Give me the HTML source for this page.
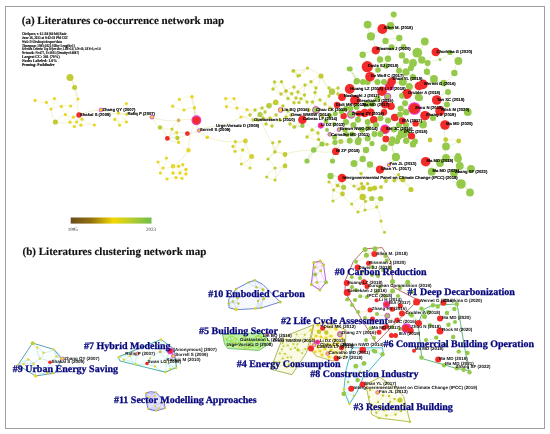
<!DOCTYPE html>
<html><head><meta charset="utf-8"><title>CiteSpace network maps</title><style>html,body{margin:0;padding:0;background:#fff;}body{width:550px;height:434px;position:relative;overflow:hidden;}</style></head><body>
<svg width="550" height="434" viewBox="0 0 550 434" text-rendering="geometricPrecision" style="position:absolute;left:0;top:0;filter:blur(0.3px)">
<rect x="5.5" y="6.5" width="539" height="422" fill="none" stroke="#a0a0a0" stroke-width="1"/>
<g stroke-width="0.55" fill="none">
<path d="M70 77.6Q73.8 81.8 74.6 87.4" stroke="#e6e8a8"/>
<path d="M74.6 87.4Q74.6 93.7 78 99" stroke="#e6e8a8"/>
<path d="M78 99Q75.3 103.6 70.6 106" stroke="#efefc4"/>
<path d="M35 100.4Q40.4 103.1 46.4 102.4" stroke="#efefc4"/>
<path d="M46.4 102.4Q49.8 99.3 54.4 98.6" stroke="#efefc4"/>
<path d="M46.4 102.4Q47.7 106.4 51 109" stroke="#efefc4"/>
<path d="M54.4 98.6Q54.3 104.3 51 109" stroke="#efefc4"/>
<path d="M54.4 98.6Q56.7 103.5 61.4 106.4" stroke="#efefc4"/>
<path d="M51 109Q55.8 106.1 61.4 106.4" stroke="#efefc4"/>
<path d="M51 109Q51.2 116.2 55.4 122" stroke="#e6e8a8"/>
<path d="M61.4 106.4Q65.9 104.8 70.6 106" stroke="#efefc4"/>
<path d="M61.4 106.4Q62.2 111.1 65.4 114.6" stroke="#efefc4"/>
<path d="M70.6 106Q69.3 111.1 65.4 114.6" stroke="#efefc4"/>
<path d="M65.4 114.6Q69 117.1 73.4 117.2" stroke="#efefc4"/>
<path d="M65.4 114.6Q68.8 117.7 70 122.2" stroke="#efefc4"/>
<path d="M65.4 114.6Q59.3 116.8 55.4 122" stroke="#e6e8a8"/>
<path d="M79 115Q76.5 116.9 73.4 117.2" stroke="#d2e4a8"/>
<path d="M79 115Q79.9 117.5 82 119.2" stroke="#d2e4a8"/>
<path d="M79 115Q78.8 118.9 76.6 122" stroke="#d2e4a8"/>
<path d="M73.4 117.2Q71 119.2 70 122.2" stroke="#efefc4"/>
<path d="M73.4 117.2Q75.7 119.1 76.6 122" stroke="#efefc4"/>
<path d="M82 119.2Q78.9 119.8 76.6 122" stroke="#efefc4"/>
<path d="M82 119.2Q82.4 122.4 81 125.2" stroke="#efefc4"/>
<path d="M82 119.2Q87.3 124 94.4 125" stroke="#efefc4"/>
<path d="M70 122.2Q73.3 121.1 76.6 122" stroke="#efefc4"/>
<path d="M70 122.2Q71.5 125.1 74.4 126.6" stroke="#efefc4"/>
<path d="M70 122.2Q62.7 124.3 55.4 122" stroke="#e6e8a8"/>
<path d="M76.6 122Q78.3 124.3 81 125.2" stroke="#efefc4"/>
<path d="M76.6 122Q76.2 124.6 74.4 126.6" stroke="#efefc4"/>
<path d="M81 125.2Q77.5 124.9 74.4 126.6" stroke="#efefc4"/>
<path d="M81 125.2Q87.7 123.1 94.4 125" stroke="#efefc4"/>
<path d="M126.4 103.6Q121 107.1 118.4 113" stroke="#efefc4"/>
<path d="M126.4 103.6Q128 109 126.4 114.4" stroke="#efefc4"/>
<path d="M118.4 113Q115.6 115.7 114.8 119.4" stroke="#efefc4"/>
<path d="M118.4 113Q123.8 116.3 126.4 122" stroke="#efefc4"/>
<path d="M118.4 113Q117.2 119.3 119.6 125.2" stroke="#efefc4"/>
<path d="M118.4 113Q122.6 112.5 126.4 114.4" stroke="#efefc4"/>
<path d="M114.8 119.4Q120.2 122.4 126.4 122" stroke="#efefc4"/>
<path d="M114.8 119.4Q118.1 121.6 119.6 125.2" stroke="#efefc4"/>
<path d="M126.4 122Q122.5 122.6 119.6 125.2" stroke="#efefc4"/>
<path d="M126.4 122Q125.3 118.2 126.4 114.4" stroke="#efefc4"/>
<path d="M152 117.2Q154.5 123.5 160 127.4" stroke="#e6e8a8"/>
<path d="M179.4 99.4Q185.3 96.2 192 96.8" stroke="#efefc4"/>
<path d="M179.4 99.4Q175 101.8 172.6 106.2" stroke="#efefc4"/>
<path d="M179.4 99.4Q183.3 104 184 110" stroke="#efefc4"/>
<path d="M192 96.8Q191.5 102.8 194.4 108" stroke="#efefc4"/>
<path d="M192 96.8Q194.8 101.9 194.4 107.7" stroke="#efefc4"/>
<path d="M172.6 106.2Q177.7 109.8 184 110" stroke="#efefc4"/>
<path d="M184 110Q188.9 107.4 194.4 108" stroke="#efefc4"/>
<path d="M184 110Q179.7 114.4 178.6 120.4" stroke="#efefc4"/>
<path d="M184 110Q188.9 107.3 194.4 107.7" stroke="#efefc4"/>
<path d="M194.4 108Q193.6 114.5 196.4 120.3" stroke="#d2e4a8"/>
<path d="M194.4 108Q191.5 102.7 192 96.6" stroke="#efefc4"/>
<path d="M196.4 120.3Q196.2 125.8 199 130.5" stroke="#d2e4a8"/>
<path d="M196.4 120.3Q193.5 114.3 194.4 107.7" stroke="#d2e4a8"/>
<path d="M178.6 120.4Q174 123.7 172 129" stroke="#e6e8a8"/>
<path d="M178.6 120.4Q179.4 126.8 176.6 132.6" stroke="#efefc4"/>
<path d="M160 127.4Q165.8 130 172 129" stroke="#e6e8a8"/>
<path d="M160 127.4Q165.3 131.8 167.4 138.4" stroke="#d2e4a8"/>
<path d="M172 129Q173.8 131.5 176.6 132.6" stroke="#e6e8a8"/>
<path d="M172 129Q171.1 134.4 167.4 138.4" stroke="#d2e4a8"/>
<path d="M172 129Q173.3 134.3 177.4 138" stroke="#e6e8a8"/>
<path d="M176.6 132.6Q182.2 131.5 187.4 133.6" stroke="#d2e4a8"/>
<path d="M176.6 132.6Q171.1 134.1 167.4 138.4" stroke="#d2e4a8"/>
<path d="M176.6 132.6Q177.8 135.2 177.4 138" stroke="#e6e8a8"/>
<path d="M176.6 132.6Q176.1 137.8 178.6 142.4" stroke="#efefc4"/>
<path d="M187.4 133.6Q183.1 137.3 177.4 138" stroke="#d2e4a8"/>
<path d="M187.4 133.6Q193.7 133.8 199 130.5" stroke="#d2e4a8"/>
<path d="M167.4 138.4Q172.3 136.7 177.4 138" stroke="#d2e4a8"/>
<path d="M167.4 138.4Q172.4 142.1 178.6 142.4" stroke="#d2e4a8"/>
<path d="M177.4 138Q178.7 140 178.6 142.4" stroke="#e6e8a8"/>
<path d="M178.6 142.4Q182.4 147.8 188.5 150.3" stroke="#efefc4"/>
<path d="M199 130.5Q204 132.8 207 137.4" stroke="#efefc4"/>
<path d="M199 130.5Q202.3 135 207.6 137" stroke="#efefc4"/>
<path d="M207 137.4Q207.2 137.1 207.6 137" stroke="#efefc4"/>
<path d="M192 96.6Q191.5 102.5 194.4 107.7" stroke="#efefc4"/>
<path d="M166.4 158Q162.8 161.3 158 162" stroke="#efefc4"/>
<path d="M166.4 158Q168.5 163.1 173 166.3" stroke="#efefc4"/>
<path d="M166.4 158Q166.2 163.5 163 168" stroke="#efefc4"/>
<path d="M158 162Q159.6 165.8 163 168" stroke="#efefc4"/>
<path d="M158 162Q160.8 167.1 160.4 173" stroke="#efefc4"/>
<path d="M173 166.3Q175.8 167.1 178.6 166.3" stroke="#efefc4"/>
<path d="M173 166.3Q168.3 168.7 163 168" stroke="#efefc4"/>
<path d="M173 166.3Q172 169.7 173 173" stroke="#efefc4"/>
<path d="M173 166.3Q177.5 168.6 180 173" stroke="#efefc4"/>
<path d="M178.6 166.3Q180.9 166.1 182.7 164.6" stroke="#efefc4"/>
<path d="M178.6 166.3Q180.3 169.4 180 173" stroke="#efefc4"/>
<path d="M182.7 164.6Q183.6 167.5 186 169.5" stroke="#efefc4"/>
<path d="M182.7 164.6Q182.6 169.2 180 173" stroke="#efefc4"/>
<path d="M186 169.5Q182.5 170.3 180 173" stroke="#efefc4"/>
<path d="M186 169.5Q186.7 171.8 186 174" stroke="#efefc4"/>
<path d="M163 168Q160.9 170.1 160.4 173" stroke="#efefc4"/>
<path d="M160.4 173Q164.6 175 167 179" stroke="#efefc4"/>
<path d="M173 173Q176.5 174.1 180 173" stroke="#efefc4"/>
<path d="M173 173Q175.2 174.9 176 177.7" stroke="#efefc4"/>
<path d="M173 173Q169.1 175.1 167 179" stroke="#efefc4"/>
<path d="M180 173Q183.2 172.6 186 174" stroke="#efefc4"/>
<path d="M180 173Q177.3 174.8 176 177.7" stroke="#efefc4"/>
<path d="M180 173Q181.8 175.3 182 178.3" stroke="#efefc4"/>
<path d="M186 174Q183.4 175.6 182 178.3" stroke="#efefc4"/>
<path d="M176 177.7Q179.1 177.1 182 178.3" stroke="#efefc4"/>
<path d="M176 177.7Q171.3 177 167 179" stroke="#efefc4"/>
<path d="M245.4 141Q240.5 142.8 235.4 141.7" stroke="#efefc4"/>
<path d="M245.4 141Q238.4 141.8 233 146.4" stroke="#efefc4"/>
<path d="M245.4 141Q245.4 145.9 242.7 150" stroke="#efefc4"/>
<path d="M235.4 141.7Q233.5 143.7 233 146.4" stroke="#efefc4"/>
<path d="M235.4 141.7Q236.6 146.6 235 151.3" stroke="#efefc4"/>
<path d="M233 146.4Q233.3 149.2 235 151.3" stroke="#efefc4"/>
<path d="M233 146.4Q238.4 146.7 242.7 150" stroke="#efefc4"/>
<path d="M235 151.3Q239 151.8 242.7 150" stroke="#efefc4"/>
<path d="M242.7 150Q248.1 152 251.6 156.6" stroke="#efefc4"/>
<path d="M242.7 150Q240 156.8 241.4 164" stroke="#efefc4"/>
<path d="M251.6 156.6Q247.6 161.8 241.4 164" stroke="#efefc4"/>
<path d="M251.6 156.6Q249.1 162.1 250 168" stroke="#efefc4"/>
<path d="M241.4 164Q246.3 164.7 250 168" stroke="#efefc4"/>
<path d="M272.7 142.8Q276.3 143.3 279.5 141.7" stroke="#e6e8a8"/>
<path d="M272.7 142.8Q275.2 147 275 151.8" stroke="#e6e8a8"/>
<path d="M272.7 142.8Q272.3 147.7 274.7 152" stroke="#e6e8a8"/>
<path d="M279.5 141.7Q278.8 147.4 275 151.8" stroke="#e6e8a8"/>
<path d="M279.5 141.7Q275.6 146.1 274.7 152" stroke="#e6e8a8"/>
<path d="M275 151.8Q280.4 151.7 285 154.5" stroke="#e6e8a8"/>
<path d="M275 151.8Q270.4 154.3 268 159" stroke="#e6e8a8"/>
<path d="M285 154.5Q286.7 160.2 285 166" stroke="#e6e8a8"/>
<path d="M285 154.5Q280.2 151.7 274.7 152" stroke="#e6e8a8"/>
<path d="M268 159Q272.9 162.4 275 168" stroke="#e6e8a8"/>
<path d="M268 159Q272.4 156.5 274.7 152" stroke="#e6e8a8"/>
<path d="M285 166Q280.3 168.5 275 168" stroke="#e6e8a8"/>
<path d="M275 168Q269.5 171.3 266.7 177" stroke="#e6e8a8"/>
<path d="M275 168Q276.8 174 275 180" stroke="#e6e8a8"/>
<path d="M266.7 177Q270.4 179.7 275 180" stroke="#e6e8a8"/>
<path d="M225.7 98.6Q229.8 97.4 234 98.6" stroke="#efefc4"/>
<path d="M225.7 98.6Q224.9 102.8 226.5 106.7" stroke="#efefc4"/>
<path d="M225.7 98.6Q232.8 101.6 237 108" stroke="#efefc4"/>
<path d="M234 98.6Q229 101.5 226.5 106.7" stroke="#efefc4"/>
<path d="M234 98.6Q236.9 102.8 237 108" stroke="#efefc4"/>
<path d="M226.5 106.7Q231.6 108.9 237 108" stroke="#efefc4"/>
<path d="M237 108Q242.3 107.3 247 109.7" stroke="#efefc4"/>
<path d="M237 108Q237.7 113.1 241 117" stroke="#efefc4"/>
<path d="M247 109.7Q245.1 114.2 241 117" stroke="#efefc4"/>
<path d="M247 109.7Q251 111 255 110" stroke="#e6e8a8"/>
<path d="M247 109.7Q249.3 111.9 250 115" stroke="#e6e8a8"/>
<path d="M241 117Q245.8 117.3 250 115" stroke="#e6e8a8"/>
<path d="M269 105.7Q271.9 103.1 275.8 102.5" stroke="#e6e8a8"/>
<path d="M269 105.7Q265.2 105.8 262 108" stroke="#e6e8a8"/>
<path d="M269 105.7Q267.9 109.4 265 112" stroke="#e6e8a8"/>
<path d="M269 105.7Q272.9 104.9 275.7 102" stroke="#e6e8a8"/>
<path d="M269 105.7Q268.9 105.3 269 105" stroke="#e6e8a8"/>
<path d="M275.8 102.5Q278.9 105.3 283 106" stroke="#e6e8a8"/>
<path d="M275.8 102.5Q275.7 102.3 275.7 102" stroke="#e6e8a8"/>
<path d="M275.8 102.5Q272 102.7 269 105" stroke="#e6e8a8"/>
<path d="M260 114.5Q260 111 262 108" stroke="#e6e8a8"/>
<path d="M260 114.5Q258.2 117 258 120" stroke="#e6e8a8"/>
<path d="M260 114.5Q262 115.8 263 118" stroke="#e6e8a8"/>
<path d="M260 114.5Q258.2 111.5 255 110" stroke="#e6e8a8"/>
<path d="M260 114.5Q257.3 118.3 253 120" stroke="#e6e8a8"/>
<path d="M260 114.5Q262.9 114 265 112" stroke="#e6e8a8"/>
<path d="M272 126Q268.7 125.9 266 124" stroke="#e6e8a8"/>
<path d="M272 126Q272.2 121.7 270 118" stroke="#e6e8a8"/>
<path d="M272 126Q275.1 121.8 280 120" stroke="#e6e8a8"/>
<path d="M266 124Q265.4 120.5 263 118" stroke="#e6e8a8"/>
<path d="M266 124Q267.1 120.4 270 118" stroke="#e6e8a8"/>
<path d="M262 108Q258.2 108 255 110" stroke="#e6e8a8"/>
<path d="M262 108Q264.1 109.5 265 112" stroke="#e6e8a8"/>
<path d="M258 120Q260.8 119.8 263 118" stroke="#e6e8a8"/>
<path d="M258 120Q255.5 120.8 253 120" stroke="#e6e8a8"/>
<path d="M263 118Q266.5 119 270 118" stroke="#e6e8a8"/>
<path d="M263 118Q263.1 114.7 265 112" stroke="#e6e8a8"/>
<path d="M270 118Q273.4 117.4 276 115" stroke="#e6e8a8"/>
<path d="M276 115Q278.8 116.9 280 120" stroke="#e6e8a8"/>
<path d="M276 115Q279.1 113.2 280.7 110" stroke="#e6e8a8"/>
<path d="M280 120Q282.6 117.6 286 117" stroke="#e6e8a8"/>
<path d="M286 117Q286.9 121.1 290 124" stroke="#e6e8a8"/>
<path d="M286 117Q286.1 113.7 288 111" stroke="#e6e8a8"/>
<path d="M286 117Q288.8 116.8 291 115" stroke="#e6e8a8"/>
<path d="M290 124Q292.4 124.9 294 127" stroke="#e6e8a8"/>
<path d="M290 124Q291.9 119.7 291 115" stroke="#e6e8a8"/>
<path d="M290 124Q292.7 124.8 294.5 127" stroke="#e6e8a8"/>
<path d="M255 110Q251.8 111.8 250 115" stroke="#e6e8a8"/>
<path d="M250 115Q252.2 117 253 120" stroke="#e6e8a8"/>
<path d="M283 106Q284.8 109.2 288 111" stroke="#e6e8a8"/>
<path d="M283 106Q282.5 108.3 280.7 110" stroke="#e6e8a8"/>
<path d="M288 111Q288.9 113.5 291 115" stroke="#e6e8a8"/>
<path d="M288 111Q284.2 111.6 280.7 110" stroke="#e6e8a8"/>
<path d="M294 127Q298.4 127.6 302.4 125.7" stroke="#d2e4a8"/>
<path d="M294 127Q297.1 122.1 302.4 119.7" stroke="#d2e4a8"/>
<path d="M302.4 125.7Q298.3 125.2 294.5 127" stroke="#d2e4a8"/>
<path d="M302.4 125.7Q301.5 122.7 302.4 119.7" stroke="#d2e4a8"/>
<path d="M294.5 127Q299.5 124.5 302.4 119.7" stroke="#d2e4a8"/>
<path d="M318.6 139.5Q320.9 141.1 322 143.7" stroke="#e6e8a8"/>
<path d="M318.6 139.5Q319.3 136.2 318 133" stroke="#e6e8a8"/>
<path d="M318.6 139.5Q312.4 140 307 137" stroke="#e6e8a8"/>
<path d="M318.6 139.5Q319.6 142.3 322 144" stroke="#d2e4a8"/>
<path d="M322 143.7Q324.6 143.3 327 144.4" stroke="#e6e8a8"/>
<path d="M322 143.7Q316.9 145.6 313.6 150" stroke="#d2e4a8"/>
<path d="M322 143.7Q318.9 148 313.9 149.8" stroke="#d2e4a8"/>
<path d="M327 144.4Q331.3 144.6 335 142.4" stroke="#d2e4a8"/>
<path d="M327 144.4Q324.4 144.9 322 144" stroke="#d2e4a8"/>
<path d="M293.7 70.7Q301 71.4 307.5 68" stroke="#e6e8a8"/>
<path d="M293.7 70.7Q297.3 72.2 299.5 75.5" stroke="#e6e8a8"/>
<path d="M293.7 70.7Q295.1 74 298 76" stroke="#e6e8a8"/>
<path d="M293.7 70.7Q293.4 71 293 71" stroke="#e6e8a8"/>
<path d="M307.5 68Q302.4 70.5 299.5 75.5" stroke="#e6e8a8"/>
<path d="M307.5 68Q303.9 73.4 298 76" stroke="#e6e8a8"/>
<path d="M299.5 75.5Q298.7 75.5 298 76" stroke="#e6e8a8"/>
<path d="M299.5 75.5Q295.6 74.2 293 71" stroke="#e6e8a8"/>
<path d="M321 76Q315.1 77.3 311 81.7" stroke="#e6e8a8"/>
<path d="M321 76Q320.3 82.8 316 88" stroke="#e6e8a8"/>
<path d="M321 76Q323.2 83.2 329 88" stroke="#e6e8a8"/>
<path d="M349 69Q354.6 74.1 356.5 81.5" stroke="#d2e4a8"/>
<path d="M349 69Q349.7 69.2 350.4 69" stroke="#d2e4a8"/>
<path d="M349 69Q354.8 73.8 357 81" stroke="#d2e4a8"/>
<path d="M274.5 82Q278 82.9 281.5 81.7" stroke="#e6e8a8"/>
<path d="M274.5 82Q274.8 85.7 273 89" stroke="#e6e8a8"/>
<path d="M274.5 82Q275.9 89 281 94" stroke="#e6e8a8"/>
<path d="M281.5 81.7Q278.3 86.6 273 89" stroke="#e6e8a8"/>
<path d="M281.5 81.7Q282.4 87 286 91" stroke="#e6e8a8"/>
<path d="M281.5 81.7Q285.1 85.7 286 91" stroke="#e6e8a8"/>
<path d="M273 89Q276.2 92.7 281 94" stroke="#e6e8a8"/>
<path d="M286 91Q289.4 87.8 294 87" stroke="#e6e8a8"/>
<path d="M286 91Q283.1 91.8 281 94" stroke="#e6e8a8"/>
<path d="M286 91Q289.3 91.5 291.7 93.7" stroke="#e6e8a8"/>
<path d="M286 91Q285.9 95 288 98.5" stroke="#e6e8a8"/>
<path d="M294 87Q293.9 90.7 291.7 93.7" stroke="#e6e8a8"/>
<path d="M294 87Q295.2 90.1 298 92" stroke="#e6e8a8"/>
<path d="M281 94Q285.2 95.2 288 98.5" stroke="#e6e8a8"/>
<path d="M281 94Q283.9 93.2 286 91" stroke="#e6e8a8"/>
<path d="M291.7 93.7Q294.6 91.9 298 92" stroke="#e6e8a8"/>
<path d="M291.7 93.7Q289.1 95.5 288 98.5" stroke="#e6e8a8"/>
<path d="M291.7 93.7Q288.4 93.2 286 91" stroke="#e6e8a8"/>
<path d="M291.7 93.7Q293.2 96.5 296 98" stroke="#e6e8a8"/>
<path d="M298 92Q300.4 87.5 305 85" stroke="#e6e8a8"/>
<path d="M298 92Q300.8 94.5 304.5 95" stroke="#e6e8a8"/>
<path d="M298 92Q297.9 95.3 296 98" stroke="#e6e8a8"/>
<path d="M305 85Q308.5 84.2 311 81.7" stroke="#e6e8a8"/>
<path d="M305 85Q310.9 84.8 316 88" stroke="#e6e8a8"/>
<path d="M305 85Q303.2 89.9 304.5 95" stroke="#e6e8a8"/>
<path d="M311 81.7Q314.4 84.1 316 88" stroke="#e6e8a8"/>
<path d="M316 88Q314.8 90.1 315 92.5" stroke="#e6e8a8"/>
<path d="M315 92.5Q315.2 97.6 312.5 102" stroke="#e6e8a8"/>
<path d="M315 92.5Q316.4 97 320 100" stroke="#e6e8a8"/>
<path d="M304.5 95Q303.3 97.4 301 98.7" stroke="#e6e8a8"/>
<path d="M304.5 95Q304.7 98.9 307 102" stroke="#e6e8a8"/>
<path d="M288 98.5Q291.6 99.8 294 102.8" stroke="#e6e8a8"/>
<path d="M301 98.7Q299.4 100.4 299 102.6" stroke="#e6e8a8"/>
<path d="M301 98.7Q304.5 99.4 307 102" stroke="#e6e8a8"/>
<path d="M301 98.7Q298.6 97.6 296 98" stroke="#e6e8a8"/>
<path d="M275.7 102Q272.8 104.5 269 105" stroke="#e6e8a8"/>
<path d="M294 102.8Q296.5 103.4 299 102.6" stroke="#e6e8a8"/>
<path d="M294 102.8Q294.3 100.1 296 98" stroke="#e6e8a8"/>
<path d="M299 102.6Q298.2 99.8 296 98" stroke="#e6e8a8"/>
<path d="M307 102Q309.8 101.2 312.5 102" stroke="#e6e8a8"/>
<path d="M307 102Q306.8 106.3 309 110" stroke="#e6e8a8"/>
<path d="M312.5 102Q315.9 99.9 320 100" stroke="#e6e8a8"/>
<path d="M312.5 102Q309.6 105.5 309 110" stroke="#e6e8a8"/>
<path d="M312.5 102Q315.4 105.5 316 110" stroke="#d2e4a8"/>
<path d="M332 91.7Q331.1 89.4 329 88" stroke="#e6e8a8"/>
<path d="M332 91.7Q334.4 88.9 338 88" stroke="#e6e8a8"/>
<path d="M332 91.7Q329.9 93.4 329 96" stroke="#e6e8a8"/>
<path d="M332 91.7Q335.3 91.9 338 94" stroke="#e6e8a8"/>
<path d="M329 88Q333.5 89.3 338 88" stroke="#e6e8a8"/>
<path d="M329 88Q330.2 92 329 96" stroke="#e6e8a8"/>
<path d="M338 88Q337.1 91 338 94" stroke="#e6e8a8"/>
<path d="M338 88Q341.4 92 342 97.2" stroke="#d2e4a8"/>
<path d="M329 96Q325.8 99.4 325 104" stroke="#e6e8a8"/>
<path d="M338 94Q340.5 95 342 97.2" stroke="#d2e4a8"/>
<path d="M320 100Q321.9 102.8 325 104" stroke="#e6e8a8"/>
<path d="M325 104Q328.1 105.2 330 108" stroke="#e6e8a8"/>
<path d="M330 108Q333.9 107.5 337 105" stroke="#d2e4a8"/>
<path d="M330 108Q331.2 112 330 116" stroke="#d2e4a8"/>
<path d="M330 108Q331.8 111.7 335.3 113.8" stroke="#d2e4a8"/>
<path d="M309 110Q312.5 109 316 110" stroke="#d2e4a8"/>
<path d="M322 116Q319.9 112.1 316 110" stroke="#d2e4a8"/>
<path d="M322 116Q326 114.8 330 116" stroke="#d2e4a8"/>
<path d="M322 116Q323.2 119.1 326 121" stroke="#d2e4a8"/>
<path d="M312 130Q315.4 130.6 318 133" stroke="#e6e8a8"/>
<path d="M312 130Q308.4 132.8 307 137" stroke="#e6e8a8"/>
<path d="M312 130Q315.7 126.5 320.8 125.6" stroke="#d2e4a8"/>
<path d="M318 133Q311.9 133.3 307 137" stroke="#e6e8a8"/>
<path d="M318 133Q318.3 128.9 320.8 125.6" stroke="#d2e4a8"/>
<path d="M327 130Q324.6 126.9 320.8 125.6" stroke="#d2e4a8"/>
<path d="M327 130Q329 131.7 329.8 134.3" stroke="#d2e4a8"/>
<path d="M327 130Q327.9 125.3 326 121" stroke="#d2e4a8"/>
<path d="M334 124Q337.3 126 339 129.6" stroke="#d2e4a8"/>
<path d="M334 124Q333.2 119.4 330 116" stroke="#d2e4a8"/>
<path d="M334 124Q329.6 123.7 326 121" stroke="#d2e4a8"/>
<path d="M298 76Q296.2 72.8 293 71" stroke="#e6e8a8"/>
<path d="M320.8 125.6Q322.7 122.5 326 121" stroke="#d2e4a8"/>
<path d="M337 105Q340.7 101.8 342 97.2" stroke="#d2e4a8"/>
<path d="M337 105Q340.2 107.6 341.5 111.5" stroke="#d2e4a8"/>
<path d="M337 105Q334.8 109.1 335.3 113.8" stroke="#d2e4a8"/>
<path d="M339 129.6Q342.1 128.9 345 130" stroke="#d2e4a8"/>
<path d="M339 129.6Q335.6 132.8 334.6 137.3" stroke="#d2e4a8"/>
<path d="M329.8 134.3Q333.6 137.6 335 142.4" stroke="#d2e4a8"/>
<path d="M329.8 134.3Q331.8 136.5 334.6 137.3" stroke="#d2e4a8"/>
<path d="M343.6 116Q347.2 114.1 351.2 114.5" stroke="#d2e4a8"/>
<path d="M343.6 116Q343.9 119.4 346 122" stroke="#d2e4a8"/>
<path d="M343.6 116Q343.7 111.9 346 108.5" stroke="#d2e4a8"/>
<path d="M343.6 116Q343.2 113.4 341.5 111.5" stroke="#d2e4a8"/>
<path d="M349.7 89Q347.1 94.3 342 97.2" stroke="#d2e4a8"/>
<path d="M349.7 89Q354.2 86.3 356.5 81.5" stroke="#d2e4a8"/>
<path d="M349.7 89Q352.2 83.9 357 81" stroke="#d2e4a8"/>
<path d="M382 91.2Q386.5 89.7 389.4 86" stroke="#d2e4a8"/>
<path d="M382 91.2Q385.6 93 387.6 96.5" stroke="#d2e4a8"/>
<path d="M382 91.2Q378.6 94.3 377.5 98.7" stroke="#d2e4a8"/>
<path d="M389.4 86Q389.9 83.4 391.7 81.5" stroke="#d2e4a8"/>
<path d="M389.4 86Q387.3 83.2 384 82" stroke="#d2e4a8"/>
<path d="M391.7 81.5Q387.9 82.9 384 82" stroke="#d2e4a8"/>
<path d="M391.7 81.5Q396.5 83.4 401.6 82.4" stroke="#d2e4a8"/>
<path d="M355 100.2Q356.8 103.4 356.5 107" stroke="#d2e4a8"/>
<path d="M355 100.2Q351.5 103.7 350.5 108.5" stroke="#d2e4a8"/>
<path d="M355 100.2Q351.7 105.7 346 108.5" stroke="#d2e4a8"/>
<path d="M385 104.7Q387.8 106.4 391 106.2" stroke="#d2e4a8"/>
<path d="M385 104.7Q385.6 108.6 384 112.2" stroke="#d2e4a8"/>
<path d="M385 104.7Q387.5 101 387.6 96.5" stroke="#d2e4a8"/>
<path d="M385 104.7Q380.4 102.8 377.5 98.7" stroke="#d2e4a8"/>
<path d="M391 106.2Q386.6 108.2 384 112.2" stroke="#d2e4a8"/>
<path d="M391 106.2Q387.8 101.9 387.6 96.5" stroke="#d2e4a8"/>
<path d="M391 106.2Q395.5 108.8 400.7 108.5" stroke="#d2e4a8"/>
<path d="M364.7 113Q367.6 111.7 370.7 112.2" stroke="#d2e4a8"/>
<path d="M364.7 113Q361.8 112.4 359 113.6" stroke="#d2e4a8"/>
<path d="M364.7 113Q364.5 108.2 367 104" stroke="#d2e4a8"/>
<path d="M370.7 112.2Q371.1 116.4 373.7 119.7" stroke="#d2e4a8"/>
<path d="M370.7 112.2Q370.1 107.9 372 104" stroke="#d2e4a8"/>
<path d="M370.7 112.2Q370.1 107.5 367 104" stroke="#d2e4a8"/>
<path d="M384 112.2Q383.1 115.7 380.4 118.2" stroke="#d2e4a8"/>
<path d="M384 112.2Q384.8 116.9 388 120.5" stroke="#d2e4a8"/>
<path d="M373.7 119.7Q376.8 117.9 380.4 118.2" stroke="#d2e4a8"/>
<path d="M373.7 119.7Q370.4 119.9 367.7 122" stroke="#d2e4a8"/>
<path d="M373.7 119.7Q375.6 122 376 125" stroke="#d2e4a8"/>
<path d="M394.7 117.5Q397.9 120.1 402 120.5" stroke="#d2e4a8"/>
<path d="M394.7 117.5Q396.9 115.2 400 114.5" stroke="#d2e4a8"/>
<path d="M394.7 117.5Q390.9 118 388 120.5" stroke="#d2e4a8"/>
<path d="M402 120.5Q400.1 117.8 400 114.5" stroke="#d2e4a8"/>
<path d="M402 120.5Q399.8 122.3 399 125" stroke="#d2e4a8"/>
<path d="M402 120.5Q404.7 122.2 406 125" stroke="#d2e4a8"/>
<path d="M402 120.5Q402.1 120.8 402.4 121" stroke="#d2e4a8"/>
<path d="M385 129.4Q385.2 124.5 388 120.5" stroke="#d2e4a8"/>
<path d="M385 129.4Q389.5 130.8 394 129.4" stroke="#d2e4a8"/>
<path d="M385 129.4Q383.4 132.4 380.4 134" stroke="#d2e4a8"/>
<path d="M385.7 139Q383.8 135.7 380.4 134" stroke="#d2e4a8"/>
<path d="M385.7 139Q389.1 138.1 392.4 139.2" stroke="#d2e4a8"/>
<path d="M385.7 139Q383.6 143 384 147.6" stroke="#d2e4a8"/>
<path d="M385.7 139Q389 140.2 391 143" stroke="#d2e4a8"/>
<path d="M412 136.2Q410.4 133.3 407.4 131.7" stroke="#d2e4a8"/>
<path d="M412 136.2Q414.3 138.4 415 141.4" stroke="#d2e4a8"/>
<path d="M412 136.2Q411.5 135.9 411 136" stroke="#d2e4a8"/>
<path d="M406.7 94.2Q407.1 90 409.7 86.7" stroke="#d2e4a8"/>
<path d="M406.7 94.2Q404.1 94.2 402 95.7" stroke="#d2e4a8"/>
<path d="M406.7 94.2Q407.1 93.8 407.6 93.6" stroke="#d2e4a8"/>
<path d="M414.4 108.5Q410.5 104.4 405 103.2" stroke="#d2e4a8"/>
<path d="M414.4 108.5Q410.8 111.6 406 112.2" stroke="#d2e4a8"/>
<path d="M414.4 108.5Q418.8 104.1 420 98" stroke="#d2e4a8"/>
<path d="M419 86Q414.5 87.7 409.7 86.7" stroke="#d2e4a8"/>
<path d="M419 86Q417.1 91.5 418.6 97.2" stroke="#d2e4a8"/>
<path d="M419 86Q420.8 84.6 423 84.4" stroke="#d2e4a8"/>
<path d="M419 86Q414 84.5 409 86" stroke="#d2e4a8"/>
<path d="M419 86Q421.3 91.8 420 98" stroke="#d2e4a8"/>
<path d="M415.6 123.4Q410.6 122.8 406 125" stroke="#d2e4a8"/>
<path d="M415.6 123.4Q412.7 128.8 407.4 131.7" stroke="#d2e4a8"/>
<path d="M415.6 123.4Q421.5 121 425 115.7" stroke="#d2e4a8"/>
<path d="M415.6 123.4Q419.5 122.8 423 124.5" stroke="#d2e4a8"/>
<path d="M359 113.6Q355 112.9 351.2 114.5" stroke="#d2e4a8"/>
<path d="M359 113.6Q356.8 110.7 356.5 107" stroke="#d2e4a8"/>
<path d="M359 113.6Q357.6 116.5 358 119.7" stroke="#d2e4a8"/>
<path d="M351.2 114.5Q355.4 116.1 358 119.7" stroke="#d2e4a8"/>
<path d="M351.2 114.5Q351.8 111.4 350.5 108.5" stroke="#d2e4a8"/>
<path d="M356.5 81.5Q359.8 80.8 363 82" stroke="#d2e4a8"/>
<path d="M356.5 81.5Q355.3 74.3 350.4 69" stroke="#d2e4a8"/>
<path d="M356.5 81.5Q356.7 81.2 357 81" stroke="#d2e4a8"/>
<path d="M363 82Q365.4 82.7 367.7 82" stroke="#d2e4a8"/>
<path d="M363 82Q365.7 78.3 370 76.7" stroke="#d2e4a8"/>
<path d="M363 82Q360.1 80.6 357 81" stroke="#d2e4a8"/>
<path d="M367.7 82Q372.6 80.5 377.5 82" stroke="#d2e4a8"/>
<path d="M367.7 82Q369.6 79.7 370 76.7" stroke="#d2e4a8"/>
<path d="M367.7 82Q362.2 83.1 357 81" stroke="#d2e4a8"/>
<path d="M377.5 82Q380.8 83 384 82" stroke="#d2e4a8"/>
<path d="M377.5 82Q373 80.5 370 76.7" stroke="#d2e4a8"/>
<path d="M403 82Q405.6 85.4 409.7 86.7" stroke="#d2e4a8"/>
<path d="M403 82Q406.6 83.1 409 86" stroke="#d2e4a8"/>
<path d="M403 82Q402.2 82 401.6 82.4" stroke="#d2e4a8"/>
<path d="M409.7 86.7Q409.2 86.5 409 86" stroke="#d2e4a8"/>
<path d="M409.7 86.7Q406.3 83.3 401.6 82.4" stroke="#d2e4a8"/>
<path d="M409.7 86.7Q409.7 90.5 407.6 93.6" stroke="#d2e4a8"/>
<path d="M402 95.7Q402.4 99.9 405 103.2" stroke="#d2e4a8"/>
<path d="M402 95.7Q404.5 93.8 407.6 93.6" stroke="#d2e4a8"/>
<path d="M418.6 97.2Q413.6 93.8 407.6 93.6" stroke="#d2e4a8"/>
<path d="M418.6 97.2Q419.4 97.4 420 98" stroke="#d2e4a8"/>
<path d="M377.5 98.7Q374 100.5 372 104" stroke="#d2e4a8"/>
<path d="M372 104Q369.5 104.8 367 104" stroke="#d2e4a8"/>
<path d="M356.5 107Q353.3 106.8 350.5 108.5" stroke="#d2e4a8"/>
<path d="M405 103.2Q403.6 106.5 400.7 108.5" stroke="#d2e4a8"/>
<path d="M405 103.2Q404.1 107.9 406 112.2" stroke="#d2e4a8"/>
<path d="M400.7 108.5Q403.9 109.6 406 112.2" stroke="#d2e4a8"/>
<path d="M400.7 108.5Q399.5 111.4 400 114.5" stroke="#d2e4a8"/>
<path d="M406 112.2Q403.3 114.2 400 114.5" stroke="#d2e4a8"/>
<path d="M358 119.7Q355 121.7 353.5 125" stroke="#d2e4a8"/>
<path d="M380.4 118.2Q384.5 118.2 388 120.5" stroke="#d2e4a8"/>
<path d="M380.4 118.2Q377.2 120.9 376 125" stroke="#d2e4a8"/>
<path d="M367.7 122Q372.3 122.3 376 125" stroke="#d2e4a8"/>
<path d="M367.7 122Q363.7 125.1 362 130" stroke="#d2e4a8"/>
<path d="M367.7 122Q368.8 125 368 128" stroke="#d2e4a8"/>
<path d="M346 122Q349.3 124.6 353.5 125" stroke="#d2e4a8"/>
<path d="M346 122Q346.7 126.2 345 130" stroke="#d2e4a8"/>
<path d="M353.5 125Q357 128.8 362 130" stroke="#d2e4a8"/>
<path d="M353.5 125Q354.1 129.7 352 134" stroke="#d2e4a8"/>
<path d="M376 125Q371.6 125.3 368 128" stroke="#d2e4a8"/>
<path d="M399 125Q397.2 128 394 129.4" stroke="#d2e4a8"/>
<path d="M399 125Q401.3 123.5 402.4 121" stroke="#d2e4a8"/>
<path d="M406 125Q406.1 128.2 404.4 131" stroke="#d2e4a8"/>
<path d="M406 125Q404.8 122.5 402.4 121" stroke="#d2e4a8"/>
<path d="M394 129.4Q398.1 129.8 401.4 132.4" stroke="#d2e4a8"/>
<path d="M401.4 132.4Q403.1 132.1 404.4 131" stroke="#d2e4a8"/>
<path d="M401.4 132.4Q402.9 132.8 404 134" stroke="#d2e4a8"/>
<path d="M401.4 132.4Q401.5 133.1 402 133.6" stroke="#d2e4a8"/>
<path d="M404.4 131Q406 130.9 407.4 131.7" stroke="#d2e4a8"/>
<path d="M404.4 131Q403.8 132.4 404 134" stroke="#d2e4a8"/>
<path d="M404.4 131Q403.6 132.7 402 133.6" stroke="#d2e4a8"/>
<path d="M407.4 131.7Q408.6 134.4 411 136" stroke="#d2e4a8"/>
<path d="M407.4 131.7Q406 133.4 404 134" stroke="#d2e4a8"/>
<path d="M374.5 134Q377.4 134.9 380.4 134" stroke="#d2e4a8"/>
<path d="M374.5 134Q371.8 137.2 367.7 138.4" stroke="#d2e4a8"/>
<path d="M374.5 134Q372.1 130 368 128" stroke="#d2e4a8"/>
<path d="M374.5 134Q374.7 139.2 372 143.6" stroke="#d2e4a8"/>
<path d="M367.7 138.4Q363 137.8 358.7 140" stroke="#d2e4a8"/>
<path d="M367.7 138.4Q370.6 140.4 372 143.6" stroke="#d2e4a8"/>
<path d="M358.7 140Q354.1 139 349.7 140.7" stroke="#d2e4a8"/>
<path d="M358.7 140Q354.5 138 352 134" stroke="#d2e4a8"/>
<path d="M358.7 140Q358.1 140.9 358 142" stroke="#d2e4a8"/>
<path d="M392.4 139.2Q389.2 140.1 386 139" stroke="#d2e4a8"/>
<path d="M392.4 139.2Q391.4 141 391.6 143" stroke="#d2e4a8"/>
<path d="M392.4 139.2Q395 139.4 397 141" stroke="#d2e4a8"/>
<path d="M392.4 139.2Q391.1 140.9 391 143" stroke="#d2e4a8"/>
<path d="M392.4 139.2Q395.1 139.7 397 141.6" stroke="#d2e4a8"/>
<path d="M399 137Q401 135.8 402 133.6" stroke="#d2e4a8"/>
<path d="M399 137Q398.6 139.3 397 141" stroke="#d2e4a8"/>
<path d="M399 137Q397.3 139 397 141.6" stroke="#d2e4a8"/>
<path d="M349.7 140.7Q349.8 137 352 134" stroke="#d2e4a8"/>
<path d="M349.7 140.7Q353.7 142.6 358 142" stroke="#d2e4a8"/>
<path d="M349.7 140.7Q345.4 142.4 340.8 141.5" stroke="#d2e4a8"/>
<path d="M349.7 140.7Q349.3 137.2 347 134.6" stroke="#d2e4a8"/>
<path d="M415 141.4Q414.4 143 413 144" stroke="#d2e4a8"/>
<path d="M415 141.4Q413.6 142.6 413 144.4" stroke="#d2e4a8"/>
<path d="M350.5 108.5Q348.2 109.2 346 108.5" stroke="#d2e4a8"/>
<path d="M346 108.5Q343.3 109.3 341.5 111.5" stroke="#d2e4a8"/>
<path d="M341.5 111.5Q338.7 113.6 335.3 113.8" stroke="#d2e4a8"/>
<path d="M362 130Q365.3 129.9 368 128" stroke="#d2e4a8"/>
<path d="M345 130Q349.1 130.9 352 134" stroke="#d2e4a8"/>
<path d="M345 130Q345.3 132.6 347 134.6" stroke="#d2e4a8"/>
<path d="M352 134Q356.2 137.1 358 142" stroke="#d2e4a8"/>
<path d="M352 134Q349.4 133.6 347 134.6" stroke="#d2e4a8"/>
<path d="M330 116Q328.8 119.1 326 121" stroke="#d2e4a8"/>
<path d="M330 116Q333 115.7 335.3 113.8" stroke="#d2e4a8"/>
<path d="M393.7 14.4Q393.8 20.7 390.5 26" stroke="#d2e4a8"/>
<path d="M367.6 24.6Q367.5 31 370.9 36.4" stroke="#d2e4a8"/>
<path d="M382.4 29Q386 26.3 390.5 26" stroke="#d2e4a8"/>
<path d="M382.4 29Q375.5 31 370.9 36.4" stroke="#d2e4a8"/>
<path d="M382.4 29Q385.8 34.5 385.5 41" stroke="#d2e4a8"/>
<path d="M390.5 26Q393.1 33.3 399.3 38" stroke="#d2e4a8"/>
<path d="M370.9 36.4Q375.4 42.6 375.8 50.3" stroke="#d2e4a8"/>
<path d="M399.3 38Q391.9 37.4 385.5 41" stroke="#d2e4a8"/>
<path d="M399.3 38Q396.8 43.8 391.6 47.3" stroke="#d2e4a8"/>
<path d="M399.3 38Q400.1 43 403.6 46.7" stroke="#d2e4a8"/>
<path d="M385.5 41Q382 47.1 375.8 50.3" stroke="#d2e4a8"/>
<path d="M385.5 41Q387.6 45.1 391.6 47.3" stroke="#d2e4a8"/>
<path d="M424.8 41.5Q422.7 48.2 417.3 52.7" stroke="#d2e4a8"/>
<path d="M375.8 50.3Q368.6 50.5 362.7 54.7" stroke="#d2e4a8"/>
<path d="M375.8 50.3Q379.3 54.3 380 59.5" stroke="#d2e4a8"/>
<path d="M417.3 52.7Q413.6 57.2 413 63" stroke="#d2e4a8"/>
<path d="M417.3 52.7Q420.6 55.7 421.8 60" stroke="#d2e4a8"/>
<path d="M435.8 52Q430.1 56.3 427.6 63" stroke="#d2e4a8"/>
<path d="M435.8 52Q443 50.1 450 52.5" stroke="#d2e4a8"/>
<path d="M435.8 52Q436.7 56.5 440 59.7" stroke="#d2e4a8"/>
<path d="M362.7 54.7Q366.8 60 367.3 66.7" stroke="#d2e4a8"/>
<path d="M391.6 47.3Q397.7 48.8 403.6 46.7" stroke="#d2e4a8"/>
<path d="M391.6 47.3Q398 49.8 402 55.4" stroke="#d2e4a8"/>
<path d="M391.6 47.3Q388.1 52.5 388 58.7" stroke="#d2e4a8"/>
<path d="M403.6 46.7Q404.1 51.3 402 55.4" stroke="#d2e4a8"/>
<path d="M402 55.4Q403.2 58.8 406 61" stroke="#d2e4a8"/>
<path d="M380 59.5Q383.9 57.9 388 58.7" stroke="#d2e4a8"/>
<path d="M380 59.5Q377.4 64.5 378 70" stroke="#d2e4a8"/>
<path d="M380 59.5Q384 61.9 386 66" stroke="#d2e4a8"/>
<path d="M388 58.7Q385.9 62.1 386 66" stroke="#d2e4a8"/>
<path d="M406 61Q409.8 61 413 63" stroke="#d2e4a8"/>
<path d="M406 61Q401 64.8 399 70.7" stroke="#d2e4a8"/>
<path d="M406 61Q409.6 63.8 411 68" stroke="#d2e4a8"/>
<path d="M413 63Q417.8 62.8 421.8 60" stroke="#d2e4a8"/>
<path d="M413 63Q412.8 65.8 411 68" stroke="#d2e4a8"/>
<path d="M421.8 60Q424.3 62.4 427.6 63" stroke="#d2e4a8"/>
<path d="M427.6 63Q428.5 67.4 426.8 71.5" stroke="#d2e4a8"/>
<path d="M427.6 63Q425.9 67.4 427 72" stroke="#d2e4a8"/>
<path d="M427.6 63Q433.3 59.5 440 59.7" stroke="#d2e4a8"/>
<path d="M367.3 66.7Q367.1 72.1 370 76.7" stroke="#d2e4a8"/>
<path d="M367.3 66.7Q373.1 66.7 378 70" stroke="#d2e4a8"/>
<path d="M350.4 69Q351.9 76 357 81" stroke="#d2e4a8"/>
<path d="M399 70.7Q402.7 70.3 406 72" stroke="#d2e4a8"/>
<path d="M399 70.7Q398.5 76.9 401.6 82.4" stroke="#d2e4a8"/>
<path d="M406 72Q407.9 69.2 411 68" stroke="#d2e4a8"/>
<path d="M406 72Q408.8 75.5 413 77" stroke="#d2e4a8"/>
<path d="M411 68Q413.4 72.2 413 77" stroke="#d2e4a8"/>
<path d="M426.8 71.5Q429.3 76.3 434 79" stroke="#d2e4a8"/>
<path d="M426.8 71.5Q427 71.7 427 72" stroke="#d2e4a8"/>
<path d="M370 76.7Q375 74.5 378 70" stroke="#d2e4a8"/>
<path d="M413 77Q419.1 79.2 423 84.4" stroke="#d2e4a8"/>
<path d="M413 77Q409.6 80.9 409 86" stroke="#d2e4a8"/>
<path d="M434 79Q429.3 83.4 423 84.4" stroke="#d2e4a8"/>
<path d="M434 79Q438.2 82.4 443.6 83" stroke="#d2e4a8"/>
<path d="M434 79Q429.4 76.5 427 72" stroke="#d2e4a8"/>
<path d="M450 52.5Q452.9 58 458.4 61" stroke="#d2e4a8"/>
<path d="M450 52.5Q446.1 57.6 440 59.7" stroke="#d2e4a8"/>
<path d="M458.4 61Q454.6 66.4 454.4 73" stroke="#d2e4a8"/>
<path d="M454.4 73Q450.5 79.6 443.6 83" stroke="#d2e4a8"/>
<path d="M443.6 83Q444.4 88.2 448 92" stroke="#d2e4a8"/>
<path d="M409 86Q404.8 85.3 401.6 82.4" stroke="#d2e4a8"/>
<path d="M409 86Q407.2 89.6 407.6 93.6" stroke="#d2e4a8"/>
<path d="M448 92Q449.4 98.4 447 104.5" stroke="#d2e4a8"/>
<path d="M448 92Q441.2 94.3 436.7 100" stroke="#d2e4a8"/>
<path d="M447 104.5Q441.2 103.8 436.7 100" stroke="#d2e4a8"/>
<path d="M447 104.5Q442.5 106.7 440 111" stroke="#d2e4a8"/>
<path d="M436.7 100Q440 105 440 111" stroke="#d2e4a8"/>
<path d="M440 111Q435.4 113.5 433 118" stroke="#d2e4a8"/>
<path d="M440 111Q444.6 117.2 445 125" stroke="#d2e4a8"/>
<path d="M425 115.7Q428.7 118 433 118" stroke="#d2e4a8"/>
<path d="M425 115.7Q425.3 120.4 423 124.5" stroke="#d2e4a8"/>
<path d="M433 118Q437.9 123.3 445 125" stroke="#d2e4a8"/>
<path d="M433 118Q429 122.8 423 124.5" stroke="#d2e4a8"/>
<path d="M445 125Q443.1 132.5 445.7 139.7" stroke="#d2e4a8"/>
<path d="M411 136Q409.2 139.2 406 141" stroke="#d2e4a8"/>
<path d="M411 136Q408.1 137.5 406.5 140.4" stroke="#d2e4a8"/>
<path d="M404 134Q406.1 137.2 406 141" stroke="#d2e4a8"/>
<path d="M404 134Q403.1 133.5 402 133.6" stroke="#d2e4a8"/>
<path d="M404 134Q406.2 136.8 406.5 140.4" stroke="#d2e4a8"/>
<path d="M413 144Q410.3 141.2 406.5 140.4" stroke="#d2e4a8"/>
<path d="M445.7 139.7Q452.4 138.4 458.7 141" stroke="#e6e8a8"/>
<path d="M445.7 139.7Q444.8 143.1 446 146.4" stroke="#d2e4a8"/>
<path d="M458.7 141Q453.2 145.6 446 146.4" stroke="#d2e4a8"/>
<path d="M446 146.4Q444.3 152.2 446 158" stroke="#d2e4a8"/>
<path d="M406 141Q406.2 140.6 406.5 140.4" stroke="#d2e4a8"/>
<path d="M458 156Q451.7 155.2 446 158" stroke="#d2e4a8"/>
<path d="M458 156Q458.4 157.2 458 158.5" stroke="#d2e4a8"/>
<path d="M458 156Q457.4 161.3 459.8 166" stroke="#d2e4a8"/>
<path d="M378 70Q381.4 66.8 386 66" stroke="#d2e4a8"/>
<path d="M386 139Q387.9 141.8 391 143" stroke="#d2e4a8"/>
<path d="M384 147.6Q386.8 144.2 391 143" stroke="#d2e4a8"/>
<path d="M391.6 143Q391.7 150.7 396 157" stroke="#d2e4a8"/>
<path d="M391.6 143Q388.6 146.6 384 148" stroke="#d2e4a8"/>
<path d="M391.6 143Q391.6 150.6 395.8 157" stroke="#d2e4a8"/>
<path d="M391.6 143Q391.3 143.1 391 143" stroke="#d2e4a8"/>
<path d="M391.6 143Q394.5 143.1 397 141.6" stroke="#d2e4a8"/>
<path d="M397 141Q397.1 141.3 397 141.6" stroke="#d2e4a8"/>
<path d="M406.5 140.4Q409.1 143.4 413 144.4" stroke="#d2e4a8"/>
<path d="M396 157Q393.7 162.1 389 165" stroke="#d2e4a8"/>
<path d="M446 158Q451.9 160.1 458 158.5" stroke="#d2e4a8"/>
<path d="M446 158Q443.8 161.4 440 163" stroke="#d2e4a8"/>
<path d="M458 158.5Q457.8 162.5 459.8 166" stroke="#d2e4a8"/>
<path d="M425.7 161.7Q433 160.2 440 163" stroke="#d2e4a8"/>
<path d="M425.7 161.7Q427.2 167.6 431.7 171.7" stroke="#d2e4a8"/>
<path d="M440 163Q437.2 168.6 431.7 171.7" stroke="#d2e4a8"/>
<path d="M459.8 166Q464.9 169.2 471 169" stroke="#d2e4a8"/>
<path d="M459.8 166Q457.9 170.4 454 173" stroke="#d2e4a8"/>
<path d="M454 173Q455.9 179.6 461 184" stroke="#d2e4a8"/>
<path d="M461 184Q466.8 186.9 470 192.5" stroke="#d2e4a8"/>
<path d="M411 189.5Q408.5 183.4 403 179.7" stroke="#e6e8a8"/>
<path d="M411 189.5Q405.4 185.8 402.8 179.7" stroke="#e6e8a8"/>
<path d="M403 179.7Q398.6 178.8 394.4 180.5" stroke="#e6e8a8"/>
<path d="M403 179.7Q400 177.8 398.5 174.5" stroke="#e6e8a8"/>
<path d="M394.4 180.5Q390.1 179.5 386 181" stroke="#e6e8a8"/>
<path d="M394.4 180.5Q398.5 178.8 402.8 179.7" stroke="#e6e8a8"/>
<path d="M394.4 180.5Q397.3 178.1 398.5 174.5" stroke="#e6e8a8"/>
<path d="M386 181Q384.4 184.8 381 187" stroke="#e6e8a8"/>
<path d="M386 181Q384.7 174.4 380 169.6" stroke="#d2e4a8"/>
<path d="M381 187Q375.8 189.7 370 189" stroke="#e6e8a8"/>
<path d="M381 187Q377.6 186.5 374.5 188" stroke="#e6e8a8"/>
<path d="M381.6 199Q380.3 203.7 376.7 207" stroke="#e6e8a8"/>
<path d="M381.6 199Q376.8 197.3 371.8 198.5" stroke="#e6e8a8"/>
<path d="M381.6 199Q381 198.9 380.5 198.5" stroke="#e6e8a8"/>
<path d="M335.7 151.4Q332.7 155.7 332.5 161" stroke="#d2e4a8"/>
<path d="M335.7 151.4Q334 147 335 142.4" stroke="#d2e4a8"/>
<path d="M335.7 151.4Q339.7 147.2 340.8 141.5" stroke="#d2e4a8"/>
<path d="M313.6 150Q311.9 156.5 307 161" stroke="#d2e4a8"/>
<path d="M313.6 150Q318.7 148.3 322 144" stroke="#d2e4a8"/>
<path d="M307 161Q308.8 154.4 313.9 149.8" stroke="#d2e4a8"/>
<path d="M366 150Q363 154 362.7 159" stroke="#d2e4a8"/>
<path d="M366 150Q360.8 147.2 358 142" stroke="#d2e4a8"/>
<path d="M366 150Q370 147.7 372 143.6" stroke="#d2e4a8"/>
<path d="M354 163.6Q357.7 160 362.7 159" stroke="#d2e4a8"/>
<path d="M354 163.6Q356 169.7 361 173.6" stroke="#d2e4a8"/>
<path d="M362.7 159Q367.2 160.7 370 164.5" stroke="#d2e4a8"/>
<path d="M370 164.5Q374.2 168.6 380 169.6" stroke="#d2e4a8"/>
<path d="M370 164.5Q366.9 170.4 361 173.6" stroke="#d2e4a8"/>
<path d="M384 148Q388.2 146.6 391 143" stroke="#d2e4a8"/>
<path d="M395.8 157Q393.6 162 389 165" stroke="#d2e4a8"/>
<path d="M380 169.6Q385.2 168.7 389 165" stroke="#d2e4a8"/>
<path d="M330.5 176Q336.6 175.3 342 178" stroke="#d2e4a8"/>
<path d="M330.5 176Q328.9 178.8 329 182" stroke="#d2e4a8"/>
<path d="M330.5 176Q335.3 179.7 337.3 185.5" stroke="#d2e4a8"/>
<path d="M342 178Q338.8 181.2 338 185.7" stroke="#d2e4a8"/>
<path d="M342 178Q340.8 182.5 337.3 185.5" stroke="#d2e4a8"/>
<path d="M342 178Q341.4 182.9 343.6 187.3" stroke="#d2e4a8"/>
<path d="M329 182Q332.5 185.3 333.6 190" stroke="#e6e8a8"/>
<path d="M329 182Q332.6 185 337.3 185.5" stroke="#e6e8a8"/>
<path d="M338 185.7Q341.5 189.2 342.5 194" stroke="#e6e8a8"/>
<path d="M338 185.7Q335.2 187.2 333.6 190" stroke="#e6e8a8"/>
<path d="M338 185.7Q337.6 185.7 337.3 185.5" stroke="#e6e8a8"/>
<path d="M338 185.7Q340.6 187.3 343.6 187.3" stroke="#e6e8a8"/>
<path d="M342.5 194Q338.8 198.9 333 201" stroke="#e6e8a8"/>
<path d="M342.5 194Q345.6 200.4 351.7 204" stroke="#e6e8a8"/>
<path d="M342.5 194Q337.4 193.3 333.6 190" stroke="#e6e8a8"/>
<path d="M342.5 194Q344.1 190.8 343.6 187.3" stroke="#e6e8a8"/>
<path d="M333 201Q331.7 195.4 333.6 190" stroke="#e6e8a8"/>
<path d="M351.7 204Q353.7 208.9 358 212" stroke="#e6e8a8"/>
<path d="M351.7 204Q356.1 198.8 362.7 197" stroke="#e6e8a8"/>
<path d="M358 212Q361.8 212.1 365 210" stroke="#e6e8a8"/>
<path d="M358 212Q360.1 205.5 365.5 201.3" stroke="#e6e8a8"/>
<path d="M365 210Q371.3 210.3 376.7 207" stroke="#e6e8a8"/>
<path d="M365 210Q363.9 205.6 365.5 201.3" stroke="#e6e8a8"/>
<path d="M362.7 197Q363.5 199.6 365.5 201.3" stroke="#e6e8a8"/>
<path d="M362.7 197Q367.5 196.4 371.8 198.5" stroke="#e6e8a8"/>
<path d="M362.7 197Q361.9 192.4 358.7 189" stroke="#e6e8a8"/>
<path d="M376.7 207Q381 213.4 381 221" stroke="#e6e8a8"/>
<path d="M376.7 207Q375.5 202 371.8 198.5" stroke="#e6e8a8"/>
<path d="M376.7 207Q377.3 202.2 380.5 198.5" stroke="#e6e8a8"/>
<path d="M381 221Q381.1 227.1 384.5 232.2" stroke="#e6e8a8"/>
<path d="M363 187.7Q366.7 187.3 370 189" stroke="#e6e8a8"/>
<path d="M363 187.7Q358.8 185.5 354 186" stroke="#e6e8a8"/>
<path d="M363 187.7Q361.6 185.9 361.5 183.6" stroke="#e6e8a8"/>
<path d="M363 187.7Q365.9 186.3 367.6 183.6" stroke="#e6e8a8"/>
<path d="M363 187.7Q361 189 358.7 189" stroke="#e6e8a8"/>
<path d="M370 189Q372.4 189.2 374.5 188" stroke="#e6e8a8"/>
<path d="M370 189Q368 186.7 367.6 183.6" stroke="#e6e8a8"/>
<path d="M374.5 188Q371.7 184.8 367.6 183.6" stroke="#e6e8a8"/>
<path d="M354 186Q357.4 183.7 361.5 183.6" stroke="#e6e8a8"/>
<path d="M354 186Q355.9 188.2 358.7 189" stroke="#e6e8a8"/>
<path d="M402.8 179.7Q399.9 177.7 398.5 174.5" stroke="#e6e8a8"/>
<path d="M335 142.4Q335.6 139.8 334.6 137.3" stroke="#d2e4a8"/>
<path d="M335 142.4Q337.8 141.1 340.8 141.5" stroke="#d2e4a8"/>
<path d="M322 144Q317.1 145.7 313.9 149.8" stroke="#d2e4a8"/>
<path d="M391 143Q393.8 141.4 397 141.6" stroke="#d2e4a8"/>
<path d="M333.6 190Q336.1 188.3 337.3 185.5" stroke="#e6e8a8"/>
<path d="M337.3 185.5Q340.7 185.5 343.6 187.3" stroke="#e6e8a8"/>
<path d="M361.5 183.6Q364.6 184.5 367.6 183.6" stroke="#e6e8a8"/>
<path d="M361.5 183.6Q359.8 178.7 361 173.6" stroke="#e6e8a8"/>
<path d="M361.5 183.6Q359.3 185.9 358.7 189" stroke="#e6e8a8"/>
<path d="M367.6 183.6Q362.8 179.6 361 173.6" stroke="#e6e8a8"/>
<path d="M365.5 201.3Q369.1 200.8 371.8 198.5" stroke="#e6e8a8"/>
<path d="M371.8 198.5Q376.1 197.2 380.5 198.5" stroke="#e6e8a8"/>
<path d="M334.6 137.3Q337.1 140.3 340.8 141.5" stroke="#d2e4a8"/>
<path d="M79 115Q89.4 109.9 101 110" stroke="#e4e6a8"/>
<path d="M101 110Q113.2 115.2 126.4 114.4" stroke="#e4e6a8"/>
<path d="M126.4 114.4Q139.5 112.7 152 117.2" stroke="#e4e6a8"/>
<path d="M152 117.2Q164.9 122 178.6 120.4" stroke="#e4e6a8"/>
<path d="M178.6 120.4Q187.3 118.1 196 120" stroke="#e4e6a8"/>
<path d="M196 120Q196.2 125.6 199 130.5" stroke="#e4e6a8"/>
<path d="M199 130.5Q207 126.2 216 126" stroke="#e4e6a8"/>
<path d="M216 126Q229.6 124.5 241 117" stroke="#e4e6a8"/>
<path d="M241 117Q247.4 117.1 253 120" stroke="#e4e6a8"/>
<path d="M196 120Q188.6 134.2 188.5 150.3" stroke="#e4e6a8"/>
<path d="M188.5 150.3Q182.7 160.2 173 166.3" stroke="#e4e6a8"/>
<path d="M196 120Q196.6 113.8 194.4 108" stroke="#e4e6a8"/>
<path d="M74.6 87.4Q77.7 92.8 78 99" stroke="#e4e6a8"/>
<path d="M78 99Q76.6 107.1 79 115" stroke="#e4e6a8"/>
<path d="M70 77.6Q73.5 81.9 74.6 87.4" stroke="#e4e6a8"/>
<path d="M207 137.4Q225.8 143.8 245.4 141" stroke="#e4e6a8"/>
<path d="M251.4 156.5Q246.5 149.5 245.4 141" stroke="#e4e6a8"/>
<path d="M260 114.5Q263 130.2 272.7 142.8" stroke="#e4e6a8"/>
<path d="M285 154.5Q298.9 149.2 313.7 150.7" stroke="#e4e6a8"/>
<path d="M313.7 150.7Q324.6 153.7 335.7 151.4" stroke="#e4e6a8"/>
<path d="M342 178Q354.6 185 362.7 197" stroke="#e4e6a8"/>
<path d="M342 178Q341.8 182.7 343.7 187" stroke="#e4e6a8"/>
<path d="M380 169.6Q392.7 171.9 403 179.7" stroke="#e4e6a8"/>
<path d="M425.7 161.7Q440.7 177.1 461 184" stroke="#e4e6a8"/>
<path d="M461 184Q466.5 187.2 470 192.5" stroke="#e4e6a8"/>
<path d="M396 157Q386.5 161.4 380 169.6" stroke="#e4e6a8"/>
<path d="M300 120Q316.4 129 327 144.4" stroke="#e4e6a8"/>
<path d="M321 76Q324.7 84.8 332 91" stroke="#e4e6a8"/>
<path d="M307.5 68Q315.2 70.4 321 76" stroke="#e4e6a8"/>
<path d="M349 69Q349.7 69.2 350.4 69" stroke="#e4e6a8"/>
<path d="M251.5 156.4Q247.4 161.4 241.4 164" stroke="#e4e6a8"/>
<path d="M285 166Q278.3 171.8 275 180" stroke="#e4e6a8"/>
</g>
<circle cx="70" cy="77.6" r="3.5" fill="#c2cc32"/>
<circle cx="74.6" cy="87.4" r="2.5" fill="#c2cc32"/>
<circle cx="78" cy="99" r="1.6" fill="#e8d628"/>
<circle cx="35" cy="100.4" r="1.6" fill="#e8d628"/>
<circle cx="46.4" cy="102.4" r="1.6" fill="#e8d628"/>
<circle cx="54.4" cy="98.6" r="1.6" fill="#e8d628"/>
<circle cx="51" cy="109" r="1.6" fill="#e8d628"/>
<circle cx="61.4" cy="106.4" r="1.6" fill="#e8d628"/>
<circle cx="70.6" cy="106" r="1.6" fill="#e8d628"/>
<circle cx="65.4" cy="114.6" r="1.6" fill="#e8d628"/>
<circle cx="79" cy="115" r="2.7" fill="#f22a2a"/>
<circle cx="73.4" cy="117.2" r="1.6" fill="#e8d628"/>
<circle cx="82" cy="119.2" r="1.6" fill="#e8d628"/>
<circle cx="70" cy="122.2" r="1.6" fill="#e8d628"/>
<circle cx="76.6" cy="122" r="1.6" fill="#e8d628"/>
<circle cx="81" cy="125.2" r="1.6" fill="#e8d628"/>
<circle cx="74.4" cy="126.6" r="1.6" fill="#e8d628"/>
<circle cx="94.4" cy="125" r="1.6" fill="#e8d628"/>
<circle cx="55.4" cy="122" r="2.6" fill="#c2cc32"/>
<circle cx="101" cy="110" r="1.9" fill="#e8d628" stroke="#e040e0" stroke-width="0.8"/>
<circle cx="126.4" cy="103.6" r="1.6" fill="#e8d628"/>
<circle cx="118.4" cy="113" r="1.6" fill="#e8d628"/>
<circle cx="114.8" cy="119.4" r="1.6" fill="#e8d628"/>
<circle cx="126.4" cy="122" r="1.6" fill="#e8d628"/>
<circle cx="119.6" cy="125.2" r="1.6" fill="#e8d628"/>
<circle cx="126.4" cy="114.4" r="1.4" fill="#e8d628"/>
<circle cx="152" cy="117.2" r="1.9" fill="#e8d628" stroke="#e040e0" stroke-width="0.8"/>
<circle cx="179.4" cy="99.4" r="1.6" fill="#e8d628"/>
<circle cx="192" cy="96.8" r="1.6" fill="#e8d628"/>
<circle cx="172.6" cy="106.2" r="1.6" fill="#e8d628"/>
<circle cx="184" cy="110" r="1.6" fill="#e8d628"/>
<circle cx="194.4" cy="108" r="1.6" fill="#e8d628"/>
<circle cx="196.4" cy="120.3" r="4.4" fill="#f22a2a" stroke="#e83cd8" stroke-width="1.1"/>
<circle cx="178.6" cy="120.4" r="1.8" fill="#dcb060"/>
<circle cx="160" cy="127.4" r="2.2" fill="#c2cc32"/>
<circle cx="172" cy="129" r="1.6" fill="#c2cc32"/>
<circle cx="176.6" cy="132.6" r="1.6" fill="#e8d628"/>
<circle cx="187.4" cy="133.6" r="2.4" fill="#f22a2a"/>
<circle cx="167.4" cy="138.4" r="2.4" fill="#f22a2a"/>
<circle cx="177.4" cy="138" r="2.2" fill="#c2cc32"/>
<circle cx="178.6" cy="142.4" r="1.6" fill="#e8d628"/>
<circle cx="188.5" cy="150.3" r="2.2" fill="#e8d628"/>
<circle cx="199" cy="130.5" r="1.7" fill="#e8d628" stroke="#e040e0" stroke-width="0.8"/>
<circle cx="207" cy="137.4" r="1.6" fill="#e8d628"/>
<circle cx="192" cy="96.6" r="1.6" fill="#e8d628"/>
<circle cx="194.4" cy="107.7" r="1.6" fill="#e8d628"/>
<circle cx="166.4" cy="158" r="1.6" fill="#e8d628"/>
<circle cx="158" cy="162" r="1.6" fill="#e8d628"/>
<circle cx="173" cy="166.3" r="2.2" fill="#e8d628"/>
<circle cx="178.6" cy="166.3" r="1.7" fill="#e8d628"/>
<circle cx="182.7" cy="164.6" r="1.7" fill="#e8d628"/>
<circle cx="186" cy="169.5" r="1.7" fill="#e8d628"/>
<circle cx="163" cy="168" r="1.6" fill="#e8d628"/>
<circle cx="160.4" cy="173" r="1.6" fill="#e8d628"/>
<circle cx="173" cy="173" r="1.7" fill="#e8d628"/>
<circle cx="180" cy="173" r="1.7" fill="#e8d628"/>
<circle cx="186" cy="174" r="1.7" fill="#e8d628"/>
<circle cx="176" cy="177.7" r="1.6" fill="#e8d628"/>
<circle cx="182" cy="178.3" r="1.6" fill="#e8d628"/>
<circle cx="167" cy="179" r="1.6" fill="#e8d628"/>
<circle cx="245.4" cy="141" r="2.4" fill="#d6d030"/>
<circle cx="235.4" cy="141.7" r="1.6" fill="#d6d030"/>
<circle cx="233" cy="146.4" r="1.6" fill="#d6d030"/>
<circle cx="235" cy="151.3" r="1.6" fill="#d6d030"/>
<circle cx="242.7" cy="150" r="1.7" fill="#d6d030"/>
<circle cx="251.6" cy="156.6" r="2.5" fill="#d6d030"/>
<circle cx="241.4" cy="164" r="1.6" fill="#d6d030"/>
<circle cx="250" cy="168" r="1.6" fill="#d6d030"/>
<circle cx="272.7" cy="142.8" r="1.6" fill="#c2cc32"/>
<circle cx="279.5" cy="141.7" r="1.6" fill="#c2cc32"/>
<circle cx="275" cy="151.8" r="1.6" fill="#c2cc32"/>
<circle cx="285" cy="154.5" r="2.4" fill="#c2cc32"/>
<circle cx="268" cy="159" r="1.6" fill="#c2cc32"/>
<circle cx="285" cy="166" r="2.4" fill="#c2cc32"/>
<circle cx="275" cy="168" r="1.6" fill="#c2cc32"/>
<circle cx="266.7" cy="177" r="1.6" fill="#c2cc32"/>
<circle cx="275" cy="180" r="1.6" fill="#c2cc32"/>
<circle cx="225.7" cy="98.6" r="1.6" fill="#e8d628"/>
<circle cx="234" cy="98.6" r="1.6" fill="#e8d628"/>
<circle cx="226.5" cy="106.7" r="1.6" fill="#e8d628"/>
<circle cx="237" cy="108" r="1.6" fill="#e8d628"/>
<circle cx="247" cy="109.7" r="1.6" fill="#e8d628"/>
<circle cx="241" cy="117" r="1.6" fill="#e8d628"/>
<circle cx="207.6" cy="137" r="1.6" fill="#e8d628"/>
<circle cx="269" cy="105.7" r="2.8" fill="#b0cc48"/>
<circle cx="275.8" cy="102.5" r="2.6" fill="#b0cc48"/>
<circle cx="260" cy="114.5" r="2.6" fill="#b0cc48"/>
<circle cx="272" cy="126" r="1.7" fill="#c2cc32"/>
<circle cx="266" cy="124" r="1.7" fill="#c2cc32"/>
<circle cx="262" cy="108" r="1.7" fill="#c2cc32"/>
<circle cx="258" cy="120" r="1.7" fill="#c2cc32"/>
<circle cx="263" cy="118" r="1.7" fill="#c2cc32"/>
<circle cx="270" cy="118" r="1.7" fill="#c2cc32"/>
<circle cx="276" cy="115" r="1.7" fill="#c2cc32"/>
<circle cx="280" cy="120" r="1.7" fill="#c2cc32"/>
<circle cx="286" cy="117" r="1.7" fill="#c2cc32"/>
<circle cx="290" cy="124" r="1.7" fill="#c2cc32"/>
<circle cx="255" cy="110" r="1.7" fill="#c2cc32"/>
<circle cx="250" cy="115" r="1.7" fill="#c2cc32"/>
<circle cx="253" cy="120" r="1.7" fill="#c2cc32"/>
<circle cx="265" cy="112" r="1.7" fill="#c2cc32"/>
<circle cx="283" cy="106" r="1.7" fill="#c2cc32"/>
<circle cx="288" cy="111" r="1.7" fill="#c2cc32"/>
<circle cx="294" cy="127" r="1.7" fill="#c2cc32"/>
<circle cx="291" cy="115" r="1.7" fill="#c2cc32"/>
<circle cx="302.4" cy="125.7" r="2.2" fill="#94c94a"/>
<circle cx="294.5" cy="127" r="1.7" fill="#c2cc32"/>
<circle cx="318.6" cy="139.5" r="1.7" fill="#c2cc32"/>
<circle cx="322" cy="143.7" r="1.7" fill="#c2cc32"/>
<circle cx="327" cy="144.4" r="1.7" fill="#c2cc32"/>
<circle cx="274.7" cy="152" r="1.6" fill="#c2cc32"/>
<circle cx="293.7" cy="70.7" r="1.6" fill="#c2cc32"/>
<circle cx="307.5" cy="68" r="1.6" fill="#c2cc32"/>
<circle cx="299.5" cy="75.5" r="1.6" fill="#c2cc32"/>
<circle cx="321" cy="76" r="2.6" fill="#c2cc32"/>
<circle cx="349" cy="69" r="2.4" fill="#94c94a"/>
<circle cx="274.5" cy="82" r="1.7" fill="#c2cc32"/>
<circle cx="281.5" cy="81.7" r="1.7" fill="#c2cc32"/>
<circle cx="273" cy="89" r="1.7" fill="#c2cc32"/>
<circle cx="286" cy="91" r="1.7" fill="#c2cc32"/>
<circle cx="294" cy="87" r="1.7" fill="#c2cc32"/>
<circle cx="281" cy="94" r="1.7" fill="#c2cc32"/>
<circle cx="291.7" cy="93.7" r="1.7" fill="#c2cc32"/>
<circle cx="298" cy="92" r="1.7" fill="#c2cc32"/>
<circle cx="305" cy="85" r="1.7" fill="#c2cc32"/>
<circle cx="311" cy="81.7" r="1.7" fill="#c2cc32"/>
<circle cx="316" cy="88" r="1.7" fill="#c2cc32"/>
<circle cx="315" cy="92.5" r="1.7" fill="#c2cc32"/>
<circle cx="304.5" cy="95" r="1.7" fill="#c2cc32"/>
<circle cx="288" cy="98.5" r="1.7" fill="#c2cc32"/>
<circle cx="301" cy="98.7" r="1.7" fill="#c2cc32"/>
<circle cx="275.7" cy="102" r="2.6" fill="#c2cc32"/>
<circle cx="269" cy="105" r="1.7" fill="#c2cc32"/>
<circle cx="294" cy="102.8" r="1.7" fill="#c2cc32"/>
<circle cx="299" cy="102.6" r="1.7" fill="#c2cc32"/>
<circle cx="307" cy="102" r="1.7" fill="#c2cc32"/>
<circle cx="312.5" cy="102" r="1.7" fill="#c2cc32"/>
<circle cx="332" cy="91.7" r="3.2" fill="#b0cc48"/>
<circle cx="329" cy="88" r="1.7" fill="#c2cc32"/>
<circle cx="338" cy="88" r="1.7" fill="#c2cc32"/>
<circle cx="329" cy="96" r="1.7" fill="#c2cc32"/>
<circle cx="338" cy="94" r="1.7" fill="#c2cc32"/>
<circle cx="320" cy="100" r="1.7" fill="#c2cc32"/>
<circle cx="325" cy="104" r="1.7" fill="#c2cc32"/>
<circle cx="330" cy="108" r="1.7" fill="#c2cc32"/>
<circle cx="309" cy="110" r="1.7" fill="#c2cc32"/>
<circle cx="322" cy="116" r="1.7" fill="#c2cc32"/>
<circle cx="312" cy="130" r="1.7" fill="#c2cc32"/>
<circle cx="318" cy="133" r="1.7" fill="#c2cc32"/>
<circle cx="307" cy="137" r="1.7" fill="#c2cc32"/>
<circle cx="327" cy="130" r="1.9" fill="#94c94a"/>
<circle cx="334" cy="124" r="1.9" fill="#94c94a"/>
<circle cx="286" cy="91" r="1.7" fill="#c2cc32"/>
<circle cx="296" cy="98" r="1.7" fill="#c2cc32"/>
<circle cx="298" cy="76" r="1.7" fill="#c2cc32"/>
<circle cx="293" cy="71" r="1.7" fill="#c2cc32"/>
<circle cx="280.7" cy="110" r="2.4" fill="#e8d628" stroke="#e040e0" stroke-width="0.8"/>
<circle cx="302.4" cy="119.7" r="4.3" fill="#f22a2a"/>
<circle cx="316" cy="110" r="3.5" fill="#9ccc50" stroke="#e040e0" stroke-width="0.9"/>
<circle cx="320.8" cy="125.6" r="2.5" fill="#f22a2a" stroke="#e83cd8" stroke-width="1.1"/>
<circle cx="337" cy="105" r="3.2" fill="#f22a2a"/>
<circle cx="339" cy="129.6" r="1.9" fill="#9ccc50" stroke="#e040e0" stroke-width="0.9"/>
<circle cx="329.8" cy="134.3" r="1.9" fill="#9ccc50" stroke="#e040e0" stroke-width="0.9"/>
<circle cx="343.6" cy="116" r="3.2" fill="#f22a2a"/>
<circle cx="349.7" cy="89" r="4.9" fill="#f22a2a"/>
<circle cx="382" cy="91.2" r="4.8" fill="#f22a2a"/>
<circle cx="389.4" cy="86" r="4.1" fill="#f22a2a" stroke="#e83cd8" stroke-width="1.1"/>
<circle cx="391.7" cy="81.5" r="4.3" fill="#f22a2a"/>
<circle cx="342" cy="97.2" r="3.8" fill="#f22a2a"/>
<circle cx="355" cy="100.2" r="4.9" fill="#f22a2a"/>
<circle cx="385" cy="104.7" r="3.8" fill="#f22a2a"/>
<circle cx="391" cy="106.2" r="3.8" fill="#f22a2a"/>
<circle cx="364.7" cy="113" r="4.3" fill="#f22a2a"/>
<circle cx="370.7" cy="112.2" r="3.8" fill="#f22a2a"/>
<circle cx="384" cy="112.2" r="3.2" fill="#f22a2a"/>
<circle cx="373.7" cy="119.7" r="3.8" fill="#f22a2a"/>
<circle cx="394.7" cy="117.5" r="3.8" fill="#f22a2a"/>
<circle cx="402" cy="120.5" r="3.2" fill="#f22a2a"/>
<circle cx="385" cy="129.4" r="4.3" fill="#f22a2a" stroke="#e83cd8" stroke-width="1.1"/>
<circle cx="385.7" cy="139" r="3.2" fill="#f22a2a"/>
<circle cx="412" cy="136.2" r="3.2" fill="#f22a2a"/>
<circle cx="406.7" cy="94.2" r="4.8" fill="#f22a2a"/>
<circle cx="414.4" cy="108.5" r="5.8" fill="#f22a2a" stroke="#e83cd8" stroke-width="1.1"/>
<circle cx="419" cy="86" r="4.3" fill="#f22a2a"/>
<circle cx="415.6" cy="123.4" r="3.2" fill="#f22a2a"/>
<circle cx="359" cy="113.6" r="3.2" fill="#f22a2a"/>
<circle cx="387.6" cy="96.5" r="3.2" fill="#9ccc50" stroke="#e040e0" stroke-width="0.9"/>
<circle cx="351.2" cy="114.5" r="3.8" fill="#9ccc50" stroke="#e040e0" stroke-width="0.9"/>
<circle cx="356.5" cy="81.5" r="3" fill="#94c94a"/>
<circle cx="363" cy="82" r="3" fill="#94c94a"/>
<circle cx="367.7" cy="82" r="3" fill="#94c94a"/>
<circle cx="377.5" cy="82" r="3" fill="#94c94a"/>
<circle cx="384" cy="82" r="3" fill="#94c94a"/>
<circle cx="403" cy="82" r="3.8" fill="#94c94a"/>
<circle cx="409.7" cy="86.7" r="3.2" fill="#94c94a"/>
<circle cx="402" cy="95.7" r="3" fill="#94c94a"/>
<circle cx="418.6" cy="97.2" r="3.8" fill="#94c94a"/>
<circle cx="377.5" cy="98.7" r="3" fill="#94c94a"/>
<circle cx="372" cy="104" r="3" fill="#94c94a"/>
<circle cx="367" cy="104" r="3" fill="#94c94a"/>
<circle cx="356.5" cy="107" r="3" fill="#94c94a"/>
<circle cx="405" cy="103.2" r="3" fill="#94c94a"/>
<circle cx="400.7" cy="108.5" r="3" fill="#94c94a"/>
<circle cx="406" cy="112.2" r="3.2" fill="#94c94a"/>
<circle cx="400" cy="114.5" r="3" fill="#94c94a"/>
<circle cx="358" cy="119.7" r="3" fill="#94c94a"/>
<circle cx="380.4" cy="118.2" r="3" fill="#94c94a"/>
<circle cx="388" cy="120.5" r="3" fill="#94c94a"/>
<circle cx="367.7" cy="122" r="3" fill="#94c94a"/>
<circle cx="346" cy="122" r="3" fill="#94c94a"/>
<circle cx="353.5" cy="125" r="3" fill="#94c94a"/>
<circle cx="376" cy="125" r="3" fill="#94c94a"/>
<circle cx="399" cy="125" r="3" fill="#94c94a"/>
<circle cx="406" cy="125" r="3" fill="#94c94a"/>
<circle cx="394" cy="129.4" r="3" fill="#94c94a"/>
<circle cx="401.4" cy="132.4" r="3" fill="#94c94a"/>
<circle cx="404.4" cy="131" r="3" fill="#94c94a"/>
<circle cx="407.4" cy="131.7" r="3" fill="#94c94a"/>
<circle cx="374.5" cy="134" r="3" fill="#94c94a"/>
<circle cx="380.4" cy="134" r="3" fill="#94c94a"/>
<circle cx="367.7" cy="138.4" r="3" fill="#94c94a"/>
<circle cx="358.7" cy="140" r="3" fill="#94c94a"/>
<circle cx="392.4" cy="139.2" r="3" fill="#94c94a"/>
<circle cx="399" cy="137" r="3" fill="#94c94a"/>
<circle cx="349.7" cy="140.7" r="3" fill="#94c94a"/>
<circle cx="415" cy="141.4" r="3" fill="#94c94a"/>
<circle cx="350.5" cy="108.5" r="2.7" fill="#94c94a"/>
<circle cx="346" cy="108.5" r="2.7" fill="#94c94a"/>
<circle cx="341.5" cy="111.5" r="2.7" fill="#94c94a"/>
<circle cx="362" cy="130" r="2.8" fill="#94c94a"/>
<circle cx="368" cy="128" r="2.8" fill="#94c94a"/>
<circle cx="345" cy="130" r="2.6" fill="#94c94a"/>
<circle cx="352" cy="134" r="2.6" fill="#94c94a"/>
<circle cx="330" cy="116" r="2.4" fill="#94c94a"/>
<circle cx="326" cy="121" r="2.4" fill="#94c94a"/>
<circle cx="393.7" cy="14.4" r="3" fill="#94c94a"/>
<circle cx="367.6" cy="24.6" r="3.9" fill="#94c94a"/>
<circle cx="382.4" cy="29" r="5" fill="#f22a2a"/>
<circle cx="390.5" cy="26" r="3.9" fill="#94c94a"/>
<circle cx="370.9" cy="36.4" r="4.1" fill="#94c94a"/>
<circle cx="399.3" cy="38" r="3.2" fill="#94c94a"/>
<circle cx="385.5" cy="41" r="3.2" fill="#94c94a"/>
<circle cx="424.8" cy="41.5" r="3.9" fill="#94c94a"/>
<circle cx="375.8" cy="50.3" r="4.1" fill="#f22a2a"/>
<circle cx="417.3" cy="52.7" r="4.9" fill="#94c94a"/>
<circle cx="435.8" cy="52" r="4.3" fill="#f22a2a"/>
<circle cx="362.7" cy="54.7" r="3.2" fill="#94c94a"/>
<circle cx="391.6" cy="47.3" r="3" fill="#94c94a"/>
<circle cx="403.6" cy="46.7" r="2.7" fill="#94c94a"/>
<circle cx="402" cy="55.4" r="3.2" fill="#94c94a"/>
<circle cx="380" cy="59.5" r="3.2" fill="#94c94a"/>
<circle cx="388" cy="58.7" r="3.2" fill="#94c94a"/>
<circle cx="406" cy="61" r="3" fill="#94c94a"/>
<circle cx="413" cy="63" r="3.9" fill="#94c94a"/>
<circle cx="421.8" cy="60" r="3.7" fill="#94c94a"/>
<circle cx="427.6" cy="63" r="3" fill="#94c94a"/>
<circle cx="367.3" cy="66.7" r="5.6" fill="#f22a2a"/>
<circle cx="350.4" cy="69" r="2.4" fill="#94c94a"/>
<circle cx="399" cy="70.7" r="3" fill="#94c94a"/>
<circle cx="406" cy="72" r="3.7" fill="#94c94a"/>
<circle cx="411" cy="68" r="3" fill="#94c94a"/>
<circle cx="426.8" cy="71.5" r="3" fill="#94c94a"/>
<circle cx="370" cy="76.7" r="4.8" fill="#f22a2a"/>
<circle cx="357" cy="81" r="3" fill="#94c94a"/>
<circle cx="413" cy="77" r="3" fill="#94c94a"/>
<circle cx="434" cy="79" r="3.9" fill="#94c94a"/>
<circle cx="423" cy="84.4" r="4.8" fill="#f22a2a"/>
<circle cx="450" cy="52.5" r="2.6" fill="#94c94a"/>
<circle cx="458.4" cy="61" r="3.9" fill="#94c94a"/>
<circle cx="454.4" cy="73" r="3.2" fill="#94c94a"/>
<circle cx="443.6" cy="83" r="3.2" fill="#94c94a"/>
<circle cx="427" cy="72" r="3" fill="#94c94a"/>
<circle cx="409" cy="86" r="3" fill="#94c94a"/>
<circle cx="401.6" cy="82.4" r="3" fill="#94c94a"/>
<circle cx="407.6" cy="93.6" r="4.5" fill="#f22a2a"/>
<circle cx="420" cy="98" r="3" fill="#94c94a"/>
<circle cx="448" cy="92" r="3" fill="#94c94a"/>
<circle cx="447" cy="104.5" r="3" fill="#94c94a"/>
<circle cx="436.7" cy="100" r="4.8" fill="#f22a2a"/>
<circle cx="440" cy="111" r="4.8" fill="#f22a2a"/>
<circle cx="467.7" cy="112" r="3.9" fill="#94c94a"/>
<circle cx="425" cy="115.7" r="4.8" fill="#f22a2a"/>
<circle cx="433" cy="118" r="3" fill="#94c94a"/>
<circle cx="445" cy="125" r="4.8" fill="#f22a2a"/>
<circle cx="402.4" cy="121" r="3.2" fill="#f22a2a"/>
<circle cx="411" cy="136" r="3.2" fill="#f22a2a"/>
<circle cx="423" cy="124.5" r="3.9" fill="#94c94a"/>
<circle cx="404" cy="134" r="3.8" fill="#94c94a"/>
<circle cx="413" cy="144" r="3" fill="#94c94a"/>
<circle cx="430" cy="140" r="2.4" fill="#c2cc32"/>
<circle cx="445.7" cy="139.7" r="2.4" fill="#c2cc32"/>
<circle cx="458.7" cy="141" r="2.4" fill="#c2cc32"/>
<circle cx="446" cy="146.4" r="3.9" fill="#94c94a"/>
<circle cx="406" cy="141" r="3" fill="#94c94a"/>
<circle cx="458" cy="156" r="3" fill="#94c94a"/>
<circle cx="378" cy="70" r="2.8" fill="#94c94a"/>
<circle cx="386" cy="66" r="2.8" fill="#94c94a"/>
<circle cx="386" cy="139" r="3.2" fill="#f22a2a"/>
<circle cx="402" cy="133.6" r="4.3" fill="#94c94a"/>
<circle cx="384" cy="147.6" r="3.2" fill="#94c94a"/>
<circle cx="391.6" cy="143" r="3" fill="#94c94a"/>
<circle cx="397" cy="141" r="3" fill="#94c94a"/>
<circle cx="406.5" cy="140.4" r="3" fill="#94c94a"/>
<circle cx="413" cy="144.4" r="3.2" fill="#94c94a"/>
<circle cx="396" cy="157" r="3.9" fill="#94c94a"/>
<circle cx="446" cy="158" r="3.9" fill="#94c94a"/>
<circle cx="458" cy="158.5" r="3.9" fill="#94c94a"/>
<circle cx="425.7" cy="161.7" r="4.8" fill="#f22a2a"/>
<circle cx="440" cy="163" r="3.9" fill="#94c94a"/>
<circle cx="459.8" cy="166" r="3.9" fill="#94c94a"/>
<circle cx="471" cy="169" r="3.9" fill="#94c94a"/>
<circle cx="431.7" cy="171.7" r="3.9" fill="#94c94a"/>
<circle cx="454" cy="173" r="3.9" fill="#94c94a"/>
<circle cx="461" cy="184" r="4.8" fill="#94c94a"/>
<circle cx="470" cy="192.5" r="3.9" fill="#94c94a"/>
<circle cx="411" cy="189.5" r="2.6" fill="#c2cc32"/>
<circle cx="403" cy="179.7" r="1.9" fill="#c2cc32"/>
<circle cx="394.4" cy="180.5" r="1.9" fill="#c2cc32"/>
<circle cx="386" cy="181" r="1.9" fill="#c2cc32"/>
<circle cx="381" cy="187" r="1.9" fill="#c2cc32"/>
<circle cx="381.6" cy="199" r="1.9" fill="#c2cc32"/>
<circle cx="335.7" cy="151.4" r="3.7" fill="#f22a2a"/>
<circle cx="313.6" cy="150" r="2.6" fill="#94c94a"/>
<circle cx="307" cy="161" r="2.6" fill="#94c94a"/>
<circle cx="332.5" cy="161" r="2.6" fill="#94c94a"/>
<circle cx="366" cy="150" r="3.2" fill="#94c94a"/>
<circle cx="354" cy="163.6" r="3.5" fill="#94c94a"/>
<circle cx="362.7" cy="159" r="3.2" fill="#94c94a"/>
<circle cx="370" cy="164.5" r="3.2" fill="#94c94a"/>
<circle cx="384" cy="148" r="3.5" fill="#94c94a"/>
<circle cx="395.8" cy="157" r="3.9" fill="#94c94a"/>
<circle cx="380" cy="169.6" r="4.1" fill="#f22a2a"/>
<circle cx="389" cy="165" r="1.7" fill="#e8d628" stroke="#e040e0" stroke-width="0.8"/>
<circle cx="330.5" cy="176" r="3.2" fill="#94c94a"/>
<circle cx="342" cy="178" r="4.3" fill="#f22a2a"/>
<circle cx="329" cy="182" r="1.6" fill="#c2cc32"/>
<circle cx="338" cy="185.7" r="1.6" fill="#c2cc32"/>
<circle cx="342.5" cy="194" r="2.4" fill="#c2cc32"/>
<circle cx="333" cy="201" r="1.6" fill="#c2cc32"/>
<circle cx="351.7" cy="204" r="1.6" fill="#c2cc32"/>
<circle cx="358" cy="212" r="1.6" fill="#c2cc32"/>
<circle cx="365" cy="210" r="1.6" fill="#c2cc32"/>
<circle cx="362.7" cy="197" r="3.2" fill="#c2cc32"/>
<circle cx="376.7" cy="207" r="1.6" fill="#c2cc32"/>
<circle cx="381" cy="221" r="1.6" fill="#c2cc32"/>
<circle cx="363" cy="187.7" r="2.6" fill="#c2cc32"/>
<circle cx="370" cy="189" r="2.6" fill="#c2cc32"/>
<circle cx="374.5" cy="188" r="2.6" fill="#c2cc32"/>
<circle cx="354" cy="186" r="1.6" fill="#c2cc32"/>
<circle cx="402.8" cy="179.7" r="2.6" fill="#c2cc32"/>
<circle cx="358" cy="142" r="3.2" fill="#94c94a"/>
<circle cx="335" cy="142.4" r="2.6" fill="#94c94a"/>
<circle cx="322" cy="144" r="2.6" fill="#94c94a"/>
<circle cx="372" cy="143.6" r="2.6" fill="#94c94a"/>
<circle cx="391" cy="143" r="2.6" fill="#94c94a"/>
<circle cx="397" cy="141.6" r="2.6" fill="#94c94a"/>
<circle cx="333.6" cy="190" r="1.6" fill="#c2cc32"/>
<circle cx="337.3" cy="185.5" r="1.7" fill="#c2cc32"/>
<circle cx="361.5" cy="183.6" r="1.6" fill="#c2cc32"/>
<circle cx="367.6" cy="183.6" r="1.6" fill="#c2cc32"/>
<circle cx="365.5" cy="201.3" r="1.6" fill="#c2cc32"/>
<circle cx="398.5" cy="174.5" r="1.6" fill="#c2cc32"/>
<circle cx="361" cy="173.6" r="1.6" fill="#c2cc32"/>
<circle cx="343.6" cy="187.3" r="2.6" fill="#b0cc48"/>
<circle cx="371.8" cy="198.5" r="2.6" fill="#b0cc48"/>
<circle cx="380.5" cy="198.5" r="2.6" fill="#b0cc48"/>
<circle cx="358.7" cy="189" r="1.6" fill="#c2cc32"/>
<circle cx="384.5" cy="232.2" r="1.5" fill="#c2cc32"/>
<circle cx="440" cy="59.7" r="1.4" fill="#94c94a"/>
<circle cx="335.3" cy="113.8" r="2.5" fill="#94c94a"/>
<circle cx="334.6" cy="137.3" r="2.5" fill="#94c94a"/>
<circle cx="340.8" cy="141.5" r="2.5" fill="#b0cc48"/>
<circle cx="347" cy="134.6" r="2.5" fill="#94c94a"/>
<circle cx="313.9" cy="149.8" r="2.6" fill="#94c94a"/>
<defs><linearGradient id="cb" x1="0" x2="1" y1="0" y2="0"><stop offset="0" stop-color="#6a4a1c"/><stop offset="0.25" stop-color="#927010"/><stop offset="0.53" stop-color="#f2d800"/><stop offset="0.75" stop-color="#b8cc30"/><stop offset="1" stop-color="#6cbf48"/></linearGradient></defs>
<rect x="70.7" y="217.5" width="80.8" height="6.1" fill="url(#cb)"/>
<text x="67.8" y="230.6" font-family="Liberation Serif, serif" font-size="5" fill="#333">1995</text>
<text x="146" y="230.6" font-family="Liberation Serif, serif" font-size="5" fill="#333">2023</text>
<g font-family="Liberation Sans, Arial, sans-serif" font-size="4.2" font-weight="bold" fill="#000" stroke="#000" stroke-width="0.1">
<text x="383.5" y="29.2">Allen M. (2018)</text>
<text x="436.4" y="52.5">Churkina G (2020)</text>
<text x="376.5" y="50.2">Rissman J (2020)</text>
<text x="367.7" y="67">Davis SJ (2018)</text>
<text x="370.7" y="77.2">De Wolf C (2017)</text>
<text x="392.5" y="80">Shan YL (2018)</text>
<text x="423.8" y="85.1">Wernet G (2016)</text>
<text x="350.3" y="90">Huang LZ (2018)</text>
<text x="385" y="90">Li Z (2018)</text>
<text x="408" y="93.9">Grubler A (2018)</text>
<text x="343.7" y="97.3">Nashaghi J (2017)</text>
<text x="356.8" y="102.1">Giesekam J (2016)</text>
<text x="437" y="100.5">Tan XC (2018)</text>
<text x="335.7" y="105.5">Dixit MK (2012)</text>
<text x="362.6" y="106.3">Ma MD (2017)</text>
<text x="415" y="108.5">Zhou N (2018)</text>
<text x="282" y="110.7">Lin BQ (2016)</text>
<text x="316" y="111">Chau CK (2015)</text>
<text x="441" y="111.2">Röck M (2020)</text>
<text x="291" y="115.5">Omar WMSW (2014)</text>
<text x="351.7" y="114.5">Zhang ZY (2016)</text>
<text x="426" y="116">Zhang X (2019)</text>
<text x="303" y="120.2">Cabeza LF (2014)</text>
<text x="254" y="120.7">Gustavsson L (2010)</text>
<text x="402" y="121.5">IEA (2017)</text>
<text x="446" y="125.2">Ma MD (2020)</text>
<text x="321" y="125.5">Li DZ (2013)</text>
<text x="216" y="127">Urge-Vorsatz D (2008)</text>
<text x="386" y="129.5">Shi JC (2016)</text>
<text x="340" y="130">Brown NWO (2014)</text>
<text x="200" y="131">Sorrell S (2009)</text>
<text x="404" y="133">IPCC (2018)</text>
<text x="331" y="135.5">Carvalho MD (2011)</text>
<text x="336" y="151.9">Ni ZF (2018)</text>
<text x="426.5" y="162">Ma MD (2019)</text>
<text x="389.6" y="165.2">Fan JL (2013)</text>
<text x="381" y="169.5">Shan YL (2017)</text>
<text x="432.5" y="172.2">Ma MD (2021)</text>
<text x="455" y="173.2">Zhang SF (2022)</text>
<text x="342.5" y="178.5">Intergovernmental Panel on Climate Change (IPCC) (2019)</text>
<text x="102.4" y="111.1">Zhang QY (2007)</text>
<text x="80" y="115.5">Shakal S (2009)</text>
<text x="127.4" y="115.1">Rafiq P (2007)</text>
</g>
<text x="21.8" y="23.5" font-family="Liberation Serif, serif" font-weight="bold" font-size="11" fill="#111" stroke="#111" stroke-width="0.15">(a) Literatures co-occurrence network map</text>
<g font-family="Liberation Serif, serif" font-weight="bold" font-size="42" fill="#000" stroke="#000" stroke-width="1.2">
<text transform="translate(22 35) scale(0.1)" textLength="447" lengthAdjust="spacingAndGlyphs">CiteSpace, v. 6.1.R6 (64-bit) Basic</text>
<text transform="translate(22 38.9) scale(0.1)" textLength="460" lengthAdjust="spacingAndGlyphs">June 26, 2023 at 9:02:19 PM CST</text>
<text transform="translate(22 42.7) scale(0.1)" textLength="400" lengthAdjust="spacingAndGlyphs">WoS: D:\Desktop\citespace\data</text>
<text transform="translate(22 46.6) scale(0.1)" textLength="527" lengthAdjust="spacingAndGlyphs">Timespan: 1995-2023 (Slice Length=1)</text>
<text transform="translate(22 50.4) scale(0.1)" textLength="787" lengthAdjust="spacingAndGlyphs">Selection Criteria: Top 50 per slice, LRF=3.0, L/N=10, LBY=5, e=1.0</text>
<text transform="translate(22 54.3) scale(0.1)" textLength="570" lengthAdjust="spacingAndGlyphs">Network: N=477, E=1951 (Density=0.0087)</text>
<text transform="translate(22 58.2) scale(0.1)" textLength="378" lengthAdjust="spacingAndGlyphs">Largest CC: 381 (79%)</text>
<text transform="translate(22 62) scale(0.1)" textLength="350" lengthAdjust="spacingAndGlyphs">Nodes Labeled: 1.0%</text>
<text transform="translate(22 65.9) scale(0.1)" textLength="327" lengthAdjust="spacingAndGlyphs">Pruning: Pathfinder</text>
</g>
<text x="22.6" y="255.1" font-family="Liberation Serif, serif" font-weight="bold" font-size="11" fill="#111" stroke="#111" stroke-width="0.15">(b) Literatures clustering network map</text>
<polygon points="32.5,343 54,349.5 61.5,358.5 55,373 35.5,376 18,365" fill="#d8f4f8" fill-opacity="0.12" stroke="none"/>
<polygon points="161,339.5 174,349 176.5,367.5 165.3,372.2 120,361 118,357" fill="#d8f8f4" fill-opacity="0.12" stroke="none"/>
<polygon points="145.9,393 150.3,391.7 156.1,392.3 164.1,401.4 165.2,408.3 156.1,410.8 148.1,409 145.9,399.5" fill="#dcdcff" fill-opacity="0.8" stroke="none"/>
<polygon points="254.8,280.2 263,284.5 280.2,302 262.2,307.7 255.6,308.6 236,309.7 229,307.7 228.6,299.5 236,289 248.3,282.4" fill="#eef2ff" fill-opacity="0.5" stroke="none"/>
<polygon points="313.8,262.4 320.2,261 323.6,264.7 326,282.3 319.8,290 311.3,284.6" fill="#f8eeff" fill-opacity="0.4" stroke="none"/>
<polygon points="222.6,334.5 262,332.6 271,342.8 258.9,350.4 227.7,348.5 224.5,344" fill="#a8ee88" fill-opacity="0.75" stroke="none"/>
<polygon points="313.4,324.9 283,337 270.5,369.2 292,374.7 306.5,352.6" fill="#f8f8d8" fill-opacity="0.7" stroke="none"/>
<polygon points="314,323.5 330,322.5 346,330 345,356 333,361 316,356 309.5,348" fill="#fff8b0" fill-opacity="0.45" stroke="none"/>
<polygon points="352,347.8 382.5,347.8 383.4,354.2 363.2,377.3 357,392 349.4,404 343.8,390 346,370" fill="#e8fafc" fill-opacity="0.3" stroke="none"/>
<polygon points="367.3,383.6 380,377.3 398,390 403.6,396.4 410,421.8 379,418 371.8,414.5 366.4,387.3" fill="#fcfce0" fill-opacity="0.5" stroke="none"/>
<g stroke-width="0.5" fill="none">
<path d="M32.7 343.2Q34.4 346 37.3 347.4" stroke="#a0d8f0"/>
<path d="M37.3 347.4Q41.3 349.2 43.6 352.8" stroke="#a0d8f0"/>
<path d="M37.3 347.4Q37 353.4 40 358.6" stroke="#a0d8f0"/>
<path d="M53.6 349.5Q49.1 352.6 43.6 352.8" stroke="#a0d8f0"/>
<path d="M53.6 349.5Q54 353.4 56.4 356.5" stroke="#a0d8f0"/>
<path d="M53.6 349.5Q59.5 352.7 62.7 358.6" stroke="#a0d8f0"/>
<path d="M53.6 349.5Q56.2 355.2 61.5 358.5" stroke="#a0d8f0"/>
<path d="M43.6 352.8Q42.7 356.2 40 358.6" stroke="#a0d8f0"/>
<path d="M28.2 359.5Q25.2 361.1 23.6 364" stroke="#a0d8f0"/>
<path d="M28.2 359.5Q31.5 360.8 33.6 363.7" stroke="#a0d8f0"/>
<path d="M28.2 359.5Q22.3 360.7 18 365" stroke="#a0d8f0"/>
<path d="M40 358.6Q45.6 359 50 362.3" stroke="#a0d8f0"/>
<path d="M40 358.6Q36 360.2 33.6 363.7" stroke="#a0d8f0"/>
<path d="M56.4 356.5Q54.1 360.4 50 362.3" stroke="#a0d8f0"/>
<path d="M56.4 356.5Q59.2 358.5 62.7 358.6" stroke="#a0d8f0"/>
<path d="M56.4 356.5Q59.2 356.7 61.5 358.5" stroke="#a0d8f0"/>
<path d="M50 362.3Q47 367.2 47.3 373" stroke="#a0d8f0"/>
<path d="M50 362.3Q53 367.2 52.7 373" stroke="#a0d8f0"/>
<path d="M62.7 358.6Q62.1 358.4 61.5 358.5" stroke="#d8e8c0"/>
<path d="M23.6 364Q28.6 362.4 33.6 363.7" stroke="#a0d8f0"/>
<path d="M23.6 364Q20.7 363.7 18 365" stroke="#a0d8f0"/>
<path d="M33.6 363.7Q36.4 369.6 35.5 376" stroke="#a0d8f0"/>
<path d="M47.3 373Q40.9 372.7 35.5 376" stroke="#a0d8f0"/>
<path d="M47.3 373Q50 372.2 52.7 373" stroke="#a0d8f0"/>
<path d="M170.4 351Q171.1 353.9 173.3 356" stroke="#90e4dc"/>
<path d="M170.4 351Q165.4 352.9 160.2 351.8" stroke="#90e4dc"/>
<path d="M170.4 351Q166.5 355.8 166 362" stroke="#90e4dc"/>
<path d="M173.3 356Q176.6 361.6 176.2 368" stroke="#90e4dc"/>
<path d="M173.3 356Q168.8 357.9 166 362" stroke="#90e4dc"/>
<path d="M161 339.5Q162.4 345.8 160.2 351.8" stroke="#90e4dc"/>
<path d="M160.2 351.8Q154.2 353.4 150 358" stroke="#90e4dc"/>
<path d="M160.2 351.8Q164.6 356 166 362" stroke="#90e4dc"/>
<path d="M137.6 353.6Q135 358.6 135.5 364.2" stroke="#90e4dc"/>
<path d="M137.6 353.6Q134.2 355.9 130 356" stroke="#90e4dc"/>
<path d="M123.8 359.8Q121.7 357.6 118.7 357" stroke="#90e4dc"/>
<path d="M123.8 359.8Q130.3 360.2 135.5 364.2" stroke="#90e4dc"/>
<path d="M123.8 359.8Q127.5 358.8 130 356" stroke="#90e4dc"/>
<path d="M118.7 357Q124.2 354.8 130 356" stroke="#90e4dc"/>
<path d="M135.5 364.2Q141.4 365.6 147 363.5" stroke="#90e4dc"/>
<path d="M135.5 364.2Q131.5 360.9 130 356" stroke="#90e4dc"/>
<path d="M147 363.5Q150.6 366.1 155 366.4" stroke="#90e4dc"/>
<path d="M147 363.5Q147.7 360.3 150 358" stroke="#90e4dc"/>
<path d="M155 366.4Q159.3 370.8 165.3 372.2" stroke="#90e4dc"/>
<path d="M155 366.4Q151.2 362.9 150 358" stroke="#90e4dc"/>
<path d="M165.3 372.2Q168.3 371.4 170.4 369" stroke="#90e4dc"/>
<path d="M165.3 372.2Q170.1 368.5 176.2 368" stroke="#d8e8c0"/>
<path d="M165.3 372.2Q167.2 367.2 166 362" stroke="#90e4dc"/>
<path d="M170.4 369Q173.2 367.6 176.2 368" stroke="#90e4dc"/>
<path d="M170.4 369Q169.2 364.8 166 362" stroke="#90e4dc"/>
<path d="M176.2 368Q170.2 366.5 166 362" stroke="#90e4dc"/>
<path d="M145.9 393Q151.1 394.2 156.1 392.3" stroke="#a8a8f0"/>
<path d="M145.9 393Q150.9 393.1 155 396" stroke="#a8a8f0"/>
<path d="M145.9 393Q146.8 395.4 148.8 397" stroke="#a8a8f0"/>
<path d="M156.1 392.3Q156.1 394.3 155 396" stroke="#a8a8f0"/>
<path d="M156.1 392.3Q151.7 393.6 148.8 397" stroke="#a8a8f0"/>
<path d="M155 396Q152.1 397.4 148.8 397" stroke="#a8a8f0"/>
<path d="M155 406Q156.9 407.8 159.4 408.3" stroke="#a8a8f0"/>
<path d="M155 406Q152 408.5 148.1 409" stroke="#a8a8f0"/>
<path d="M155 406Q154.8 408.6 156.1 410.8" stroke="#a8a8f0"/>
<path d="M155 406Q158.3 403.1 162.6 402.5" stroke="#a8a8f0"/>
<path d="M159.4 408.3Q162.3 409.2 165.2 408.3" stroke="#a8a8f0"/>
<path d="M159.4 408.3Q153.9 410.3 148.1 409" stroke="#a8a8f0"/>
<path d="M159.4 408.3Q157.4 409.1 156.1 410.8" stroke="#a8a8f0"/>
<path d="M159.4 408.3Q160.1 404.9 162.6 402.5" stroke="#a8a8f0"/>
<path d="M165.2 408.3Q160.3 408.2 156.1 410.8" stroke="#d8e8c0"/>
<path d="M165.2 408.3Q163 405.8 162.6 402.5" stroke="#a8a8f0"/>
<path d="M148.1 409Q151.8 411.1 156.1 410.8" stroke="#a8a8f0"/>
<path d="M254.8 280.2Q251.9 282.3 248.3 282.4" stroke="#b0c4f0"/>
<path d="M254.8 280.2Q254.6 284 256.5 287.3" stroke="#b0c4f0"/>
<path d="M254.8 280.2Q260.3 283.7 263 289.7" stroke="#b0c4f0"/>
<path d="M248.3 282.4Q251.7 286.1 256.5 287.3" stroke="#b0c4f0"/>
<path d="M236 289Q238.2 293.3 237.6 298" stroke="#b0c4f0"/>
<path d="M236 289Q232.5 294.8 232.7 301.5" stroke="#b0c4f0"/>
<path d="M256.5 287.3Q260.1 287.5 263 289.7" stroke="#b0c4f0"/>
<path d="M263 289.7Q262 294.3 263.8 298.7" stroke="#b0c4f0"/>
<path d="M263 289.7Q262.2 296 258 300.9" stroke="#b0c4f0"/>
<path d="M263.8 298.7Q260.6 298.9 258 300.9" stroke="#b0c4f0"/>
<path d="M263.8 298.7Q261.2 304.8 255.6 308.5" stroke="#b0c4f0"/>
<path d="M263.8 298.7Q261.2 302.8 261.4 307.7" stroke="#b0c4f0"/>
<path d="M258 300.9Q257.9 305.1 255.6 308.5" stroke="#b0c4f0"/>
<path d="M258 300.9Q258.7 304.8 261.4 307.7" stroke="#b0c4f0"/>
<path d="M237.6 298Q235.7 300.5 232.7 301.5" stroke="#b0c4f0"/>
<path d="M237.6 298Q237.2 300.9 238.5 303.6" stroke="#b0c4f0"/>
<path d="M232.7 301.5Q235.9 301.7 238.5 303.6" stroke="#b0c4f0"/>
<path d="M232.7 301.5Q230.3 301.9 228.6 303.6" stroke="#b0c4f0"/>
<path d="M232.7 301.5Q235.5 305 236 309.4" stroke="#b0c4f0"/>
<path d="M238.5 303.6Q233.6 302.1 228.6 303.6" stroke="#b0c4f0"/>
<path d="M238.5 303.6Q238.1 306.9 236 309.4" stroke="#b0c4f0"/>
<path d="M228.6 303.6Q231.4 307.6 236 309.4" stroke="#b0c4f0"/>
<path d="M255.6 308.5Q258.4 307.2 261.4 307.7" stroke="#b0c4f0"/>
<path d="M313.8 262.4Q317.2 262.7 320.2 261" stroke="#e0a8f0"/>
<path d="M313.8 262.4Q319 262.1 323.6 264.7" stroke="#e0a8f0"/>
<path d="M313.8 262.4Q313.5 265 314.7 267.3" stroke="#e0a8f0"/>
<path d="M320.2 261Q322.5 262.3 323.6 264.7" stroke="#d8e8c0"/>
<path d="M320.2 261Q316.5 263.3 314.7 267.3" stroke="#e0a8f0"/>
<path d="M323.6 264.7Q319.5 267.3 314.7 267.3" stroke="#e0a8f0"/>
<path d="M323.6 264.7Q321.2 267.3 320.7 270.7" stroke="#e0a8f0"/>
<path d="M314.7 267.3Q318.2 268.1 320.7 270.7" stroke="#e0a8f0"/>
<path d="M314.7 267.3Q313.9 270.9 315.2 274.4" stroke="#e0a8f0"/>
<path d="M320.7 270.7Q318.5 273.4 315.2 274.4" stroke="#e0a8f0"/>
<path d="M320.7 270.7Q321.6 277.3 326 282.3" stroke="#e0a8f0"/>
<path d="M315.2 274.4Q317.3 278.1 317 282.3" stroke="#e0a8f0"/>
<path d="M315.2 274.4Q311.7 278.9 311.3 284.6" stroke="#e0a8f0"/>
<path d="M317 282.3Q321.5 280.9 326 282.3" stroke="#e0a8f0"/>
<path d="M317 282.3Q313.8 282.6 311.3 284.6" stroke="#e0a8f0"/>
<path d="M317 282.3Q319.6 285.7 319.8 290" stroke="#e0a8f0"/>
<path d="M326 282.3Q321.7 285.2 319.8 290" stroke="#d8e8c0"/>
<path d="M311.3 284.6Q316.4 286 319.8 290" stroke="#e0a8f0"/>
<path d="M267 334Q261.4 333.6 256.4 336.3" stroke="#48d040"/>
<path d="M267 334Q264.3 336.4 260.8 336.9" stroke="#48d040"/>
<path d="M267 334Q264.7 337 264.5 340.7" stroke="#48d040"/>
<path d="M322.6 328.2Q321.3 330.5 319 331.8" stroke="#f0e070"/>
<path d="M322.6 328.2Q323.8 330.9 326.3 332.5" stroke="#f0e070"/>
<path d="M322.6 328.2Q326.1 326.5 330 327" stroke="#f0e070"/>
<path d="M322.6 328.2Q320.8 325.9 318 325" stroke="#f0e070"/>
<path d="M317.5 342Q316.2 344 314 345" stroke="#f0e070"/>
<path d="M317.5 342Q317 344.6 318 347" stroke="#f0e070"/>
<path d="M317.5 342Q314.8 341.2 313 339" stroke="#f0e070"/>
<path d="M311 348.5Q313 347.2 314 345" stroke="#f0e070"/>
<path d="M311 348.5Q313.5 349.6 315 352" stroke="#f0e070"/>
<path d="M311 348.5Q308 347.9 305.2 349.1" stroke="#f0e070"/>
<path d="M336.5 358.7Q335.2 355.4 336 352" stroke="#f0e070"/>
<path d="M336.5 358.7Q333 356.7 329 357" stroke="#f0e070"/>
<path d="M336.5 358.7Q336.1 358.4 336 358" stroke="#f0e070"/>
<path d="M341.5 347.8Q337.7 345.1 333 345" stroke="#f0e070"/>
<path d="M341.5 347.8Q339 345.9 338 343" stroke="#f0e070"/>
<path d="M341.5 347.8Q338.1 349.1 336 352" stroke="#f0e070"/>
<path d="M362.6 350Q368.2 348.7 373.5 350.7" stroke="#a8e8f0"/>
<path d="M362.6 350Q365.8 345.5 366 340" stroke="#a8e8f0"/>
<path d="M340 334Q337.2 332.1 336 329" stroke="#f0e070"/>
<path d="M340 334Q340.4 336.3 342 338" stroke="#f0e070"/>
<path d="M340 334Q340 334.3 339.8 334.6" stroke="#f0e070"/>
<path d="M327.7 353.6Q327 350.9 325 349" stroke="#f0e070"/>
<path d="M327.7 353.6Q328.8 351.3 331 350" stroke="#f0e070"/>
<path d="M327.7 353.6Q324.6 353.4 322 355" stroke="#f0e070"/>
<path d="M327.7 353.6Q328.9 355.1 329 357" stroke="#f0e070"/>
<path d="M314 345Q315.7 346.6 318 347" stroke="#f0e070"/>
<path d="M314 345Q312.6 342.1 313 339" stroke="#f0e070"/>
<path d="M319 331.8Q316.9 333.4 316 336" stroke="#f0e070"/>
<path d="M319 331.8Q320.8 334.1 321 337" stroke="#f0e070"/>
<path d="M319 331.8Q315.3 329.7 311 330" stroke="#f0e070"/>
<path d="M319 331.8Q317.5 328.5 318 325" stroke="#f0e070"/>
<path d="M326.3 332.5Q325.3 335.2 326 338" stroke="#f0e070"/>
<path d="M326.3 332.5Q329.2 333.5 331 336" stroke="#f0e070"/>
<path d="M326.3 332.5Q329 330.3 330 327" stroke="#f0e070"/>
<path d="M298 350Q296.8 347.2 297.4 344.3" stroke="#d8e890"/>
<path d="M298 350Q299.7 352.3 302.3 353.3" stroke="#d8e890"/>
<path d="M298 350Q296.2 349.4 295.1 348" stroke="#d8e890"/>
<path d="M298 350Q301.7 350.6 305.2 349.1" stroke="#d8e890"/>
<path d="M370.6 328.2Q370.2 323.3 372.5 319" stroke="#ecd0c0"/>
<path d="M370.6 328.2Q374.2 331.5 379 332.2" stroke="#ecd0c0"/>
<path d="M370.6 328.2Q373.8 332.6 374 338" stroke="#ecd0c0"/>
<path d="M373.5 350.7Q368.4 348.8 363 350" stroke="#a8e8f0"/>
<path d="M373.5 350.7Q374.5 350.8 375.2 351.4" stroke="#a8e8f0"/>
<path d="M373.5 350.7Q377.5 353.8 382.5 354.2" stroke="#a8e8f0"/>
<path d="M316 336Q318.6 335.8 321 337" stroke="#f0e070"/>
<path d="M316 336Q314.1 337.1 313 339" stroke="#f0e070"/>
<path d="M316 336Q312.6 333.8 311 330" stroke="#f0e070"/>
<path d="M321 337Q323.4 338.2 326 338" stroke="#f0e070"/>
<path d="M326 338Q328.2 336.2 331 336" stroke="#f0e070"/>
<path d="M331 336Q332.4 338.6 335 340" stroke="#f0e070"/>
<path d="M335 340Q334.8 342.8 333 345" stroke="#f0e070"/>
<path d="M335 340Q336.1 341.9 338 343" stroke="#f0e070"/>
<path d="M318 347Q320.4 345.8 323 346" stroke="#f0e070"/>
<path d="M318 347Q318.4 349.3 320 351" stroke="#f0e070"/>
<path d="M318 347Q317.2 349.9 315 352" stroke="#f0e070"/>
<path d="M323 346Q325.8 345.8 328 344" stroke="#f0e070"/>
<path d="M323 346Q324.4 347.2 325 349" stroke="#f0e070"/>
<path d="M328 344Q330.4 345.2 333 345" stroke="#f0e070"/>
<path d="M328 344Q327.2 346.9 325 349" stroke="#f0e070"/>
<path d="M333 345Q335.8 344.8 338 343" stroke="#f0e070"/>
<path d="M333 345Q332.8 347.8 331 350" stroke="#f0e070"/>
<path d="M338 343Q340.8 341.1 342 338" stroke="#f0e070"/>
<path d="M320 351Q322.2 349.2 325 349" stroke="#f0e070"/>
<path d="M320 351Q320.4 353.3 322 355" stroke="#f0e070"/>
<path d="M320 351Q317.6 352.2 315 352" stroke="#f0e070"/>
<path d="M325 349Q322.6 351.6 322 355" stroke="#f0e070"/>
<path d="M331 350Q333.8 350.2 336 352" stroke="#f0e070"/>
<path d="M331 350Q328.9 353.2 329 357" stroke="#f0e070"/>
<path d="M336 352Q336.9 355 336 358" stroke="#f0e070"/>
<path d="M329 357Q332.4 358.6 336 358" stroke="#f0e070"/>
<path d="M313 339Q309.7 340.9 305.9 340.6" stroke="#f0e070"/>
<path d="M330 327Q332.7 328.9 336 329" stroke="#f0e070"/>
<path d="M336 329Q338.7 331.2 339.8 334.6" stroke="#f0e070"/>
<path d="M342 338Q341.4 336 339.8 334.6" stroke="#f0e070"/>
<path d="M311 330Q313.8 326.4 318 325" stroke="#d8e890"/>
<path d="M311 330Q307.2 331.5 304.8 334.8" stroke="#d8e890"/>
<path d="M374.4 254Q369 253.2 365 249.5" stroke="#ecd0c0"/>
<path d="M374.4 254Q375.5 251.4 375 248.7" stroke="#ecd0c0"/>
<path d="M374.4 254Q370.6 255.8 366.4 255.3" stroke="#ecd0c0"/>
<path d="M374.4 254Q379.6 256.6 385.3 256" stroke="#ecd0c0"/>
<path d="M368.5 263.3Q366.2 259.6 366.4 255.3" stroke="#ecd0c0"/>
<path d="M368.5 263.3Q369.7 265.7 372 267" stroke="#ecd0c0"/>
<path d="M368.5 263.3Q366.6 268.6 362 272" stroke="#ecd0c0"/>
<path d="M357.6 267.6Q357.7 264.5 356 261.8" stroke="#ecd0c0"/>
<path d="M357.6 267.6Q360.4 272.4 360 278" stroke="#ecd0c0"/>
<path d="M357.6 267.6Q359.1 270.5 362 272" stroke="#ecd0c0"/>
<path d="M346.7 283Q348.4 287.6 347.2 292.4" stroke="#ecd0c0"/>
<path d="M346.7 283Q350.1 280.8 351.8 277" stroke="#ecd0c0"/>
<path d="M346.7 283Q350 284.2 352 287" stroke="#ecd0c0"/>
<path d="M364 282.2Q364.9 284.8 367 286.5" stroke="#ecd0c0"/>
<path d="M364 282.2Q361.4 280.7 360 278" stroke="#ecd0c0"/>
<path d="M364 282.2Q364.5 276.8 362 272" stroke="#ecd0c0"/>
<path d="M367 286.5Q368.5 291.8 366.8 297" stroke="#ecd0c0"/>
<path d="M367 286.5Q364.8 281.2 360 278" stroke="#ecd0c0"/>
<path d="M347.2 292.4Q348.3 295.9 347.2 299.5" stroke="#ecd0c0"/>
<path d="M347.2 292.4Q350.4 290.4 352 287" stroke="#ecd0c0"/>
<path d="M347.2 292.4Q351.2 289.9 356 290" stroke="#ecd0c0"/>
<path d="M376.6 300.3Q380.9 303.8 386.5 304.4" stroke="#ecd0c0"/>
<path d="M376.6 300.3Q371.2 300.1 366.8 297" stroke="#ecd0c0"/>
<path d="M376.6 300.3Q381.4 299.4 385 296" stroke="#ecd0c0"/>
<path d="M376.6 300.3Q375.6 296.1 377 292" stroke="#ecd0c0"/>
<path d="M386.5 304.4Q388.6 307.7 392.2 309.3" stroke="#ecd0c0"/>
<path d="M386.5 304.4Q384.5 300.4 385 296" stroke="#ecd0c0"/>
<path d="M370 310Q369.9 314.9 372.5 319" stroke="#ecd0c0"/>
<path d="M370 310Q364.3 312.8 358 312" stroke="#ecd0c0"/>
<path d="M370 310Q366.3 313.2 365 318" stroke="#ecd0c0"/>
<path d="M370 310Q374.1 310.9 377 314" stroke="#ecd0c0"/>
<path d="M392.2 309.3Q396.8 308.9 400.4 306" stroke="#ecd0c0"/>
<path d="M392.2 309.3Q390.7 313.3 387.3 315.8" stroke="#ecd0c0"/>
<path d="M400.4 306Q400.1 309.9 402 313.4" stroke="#ecd0c0"/>
<path d="M400.4 306Q397.7 301.4 398 296" stroke="#ecd0c0"/>
<path d="M402 313.4Q398.5 315.9 397 320" stroke="#ecd0c0"/>
<path d="M402 313.4Q406.2 312.6 410.2 314.2" stroke="#ecd0c0"/>
<path d="M402 313.4Q406.6 315.9 411.7 315.4" stroke="#ecd0c0"/>
<path d="M372.5 319Q368.6 319.6 365 318" stroke="#ecd0c0"/>
<path d="M372.5 319Q375.5 317.2 377 314" stroke="#ecd0c0"/>
<path d="M397 320Q391.5 319.4 387.3 315.8" stroke="#ecd0c0"/>
<path d="M397 320Q393.4 322.8 392 327" stroke="#ecd0c0"/>
<path d="M397 320Q399.9 324.1 400 329" stroke="#ecd0c0"/>
<path d="M386.5 326.5Q381.9 328.2 379 332.2" stroke="#ecd0c0"/>
<path d="M386.5 326.5Q390.3 330.3 391.4 335.5" stroke="#ecd0c0"/>
<path d="M386.5 326.5Q385 326.9 384 328" stroke="#ecd0c0"/>
<path d="M386.5 326.5Q389.3 325.9 392 327" stroke="#ecd0c0"/>
<path d="M379 332.2Q382.1 330.9 384 328" stroke="#ecd0c0"/>
<path d="M379 332.2Q377.4 335.9 374 338" stroke="#ecd0c0"/>
<path d="M391.4 335.5Q393.4 336.1 395.5 335.5" stroke="#d8e8c0"/>
<path d="M391.4 335.5Q390.4 331.2 392 327" stroke="#d8e8c0"/>
<path d="M395.5 335.5Q395 330.7 392 327" stroke="#d8e8c0"/>
<path d="M395.5 335.5Q396.8 331.6 400 329" stroke="#d8e8c0"/>
<path d="M407 328Q408.1 329.7 410 330.5" stroke="#d8e8c0"/>
<path d="M407 328Q403.6 329.6 400 329" stroke="#d8e8c0"/>
<path d="M407 328Q406.4 327.9 405.9 328.2" stroke="#d8e8c0"/>
<path d="M407 328Q409.3 328.8 410.8 330.7" stroke="#d8e8c0"/>
<path d="M410 330.5Q408.3 328.7 405.9 328.2" stroke="#d8e8c0"/>
<path d="M410 330.5Q410.4 330.5 410.8 330.7" stroke="#d8e8c0"/>
<path d="M418.4 323.2Q415.6 317.5 410.2 314.2" stroke="#b8e8c8"/>
<path d="M418.4 323.2Q418.7 323.2 419 323.3" stroke="#b8e8c8"/>
<path d="M418.4 323.2Q416.2 318.3 411.7 315.4" stroke="#b8e8c8"/>
<path d="M418.4 323.2Q420.4 318.9 424.5 316.4" stroke="#b8e8c8"/>
<path d="M363 350Q366 345.4 366 340" stroke="#a8e8f0"/>
<path d="M363 350Q369.3 348.9 375.2 351.4" stroke="#a8e8f0"/>
<path d="M384 328Q388.1 328.7 392 327" stroke="#ecd0c0"/>
<path d="M365 249.5Q369.9 247.6 375 248.7" stroke="#ecd0c0"/>
<path d="M365 249.5Q364.8 252.6 366.4 255.3" stroke="#ecd0c0"/>
<path d="M375 248.7Q371.7 253.3 366.4 255.3" stroke="#ecd0c0"/>
<path d="M375 248.7Q379.1 253.9 385.3 256" stroke="#ecd0c0"/>
<path d="M366.4 255.3Q362.2 260.1 356 261.8" stroke="#ecd0c0"/>
<path d="M385.3 256Q385.3 258.4 386.7 260.4" stroke="#ecd0c0"/>
<path d="M385.3 256Q389.4 261.3 390 268" stroke="#ecd0c0"/>
<path d="M356 261.8Q357.5 267.8 362 272" stroke="#ecd0c0"/>
<path d="M386.7 260.4Q386.3 265.8 383 270" stroke="#ecd0c0"/>
<path d="M386.7 260.4Q387.2 264.7 390 268" stroke="#ecd0c0"/>
<path d="M351.8 277Q353.4 282 352 287" stroke="#ecd0c0"/>
<path d="M351.8 277Q355.8 278.7 360 278" stroke="#ecd0c0"/>
<path d="M392.5 281.5Q393.9 286.2 392.5 291" stroke="#ecd0c0"/>
<path d="M392.5 281.5Q395.3 285.9 400 288" stroke="#ecd0c0"/>
<path d="M407.8 282.2Q404.8 286.3 400 288" stroke="#d8e8c0"/>
<path d="M407.8 282.2Q408.4 287.7 412 292" stroke="#d8e8c0"/>
<path d="M392.5 291Q396 292.7 398 296" stroke="#ecd0c0"/>
<path d="M392.5 291Q388 292.4 385 296" stroke="#ecd0c0"/>
<path d="M392.5 291Q395.8 288.4 400 288" stroke="#ecd0c0"/>
<path d="M360.3 296.2Q363.4 297.6 366.8 297" stroke="#ecd0c0"/>
<path d="M360.3 296.2Q357.2 293.7 356 290" stroke="#ecd0c0"/>
<path d="M360.3 296.2Q357.1 297.3 355 300" stroke="#ecd0c0"/>
<path d="M347.2 299.5Q350.4 301.5 352 305" stroke="#d8e8c0"/>
<path d="M347.2 299.5Q351 300.9 355 300" stroke="#ecd0c0"/>
<path d="M387.3 315.8Q381.9 316.4 377 314" stroke="#ecd0c0"/>
<path d="M410.2 314.2Q410.8 315 411.7 315.4" stroke="#d8e8c0"/>
<path d="M352 287Q354.4 287.9 356 290" stroke="#ecd0c0"/>
<path d="M383 270Q379.6 272.2 378 276" stroke="#ecd0c0"/>
<path d="M383 270Q386.2 267.9 390 268" stroke="#ecd0c0"/>
<path d="M378 276Q375.1 274.6 372 275" stroke="#ecd0c0"/>
<path d="M378 276Q380.6 281.2 380 287" stroke="#ecd0c0"/>
<path d="M378 276Q376.4 270.6 372 267" stroke="#ecd0c0"/>
<path d="M360 278Q360.1 274.7 362 272" stroke="#ecd0c0"/>
<path d="M372 275Q373.2 271 372 267" stroke="#ecd0c0"/>
<path d="M372 275Q366.6 275 362 272" stroke="#ecd0c0"/>
<path d="M398 296Q400.2 292.3 400 288" stroke="#ecd0c0"/>
<path d="M385 296Q381.1 292.2 380 287" stroke="#ecd0c0"/>
<path d="M385 296Q381.6 292.8 377 292" stroke="#ecd0c0"/>
<path d="M352 305Q352.8 302.1 355 300" stroke="#ecd0c0"/>
<path d="M352 305Q353.9 309.4 358 312" stroke="#ecd0c0"/>
<path d="M380 287Q379.2 289.9 377 292" stroke="#ecd0c0"/>
<path d="M400 288Q405.4 291.8 412 292" stroke="#d8e8c0"/>
<path d="M358 312Q362.4 313.9 365 318" stroke="#ecd0c0"/>
<path d="M392 327Q395.7 329.2 400 329" stroke="#d8e8c0"/>
<path d="M400 329Q402.8 327.7 405.9 328.2" stroke="#d8e8c0"/>
<path d="M374 338Q369.7 337.8 366 340" stroke="#ecd0c0"/>
<path d="M412 292Q415.8 296.3 416.6 302" stroke="#d8e8c0"/>
<path d="M416.6 302Q418.1 306 421.5 308.6" stroke="#d8e8c0"/>
<path d="M443.4 302.7Q438.5 305.6 432.9 305.3" stroke="#b8e8c8"/>
<path d="M443.4 302.7Q440 303.8 437.8 306.6" stroke="#b8e8c8"/>
<path d="M443.4 302.7Q446.7 307.3 447 313" stroke="#b8e8c8"/>
<path d="M443.4 302.7Q448 307.5 454.4 309" stroke="#b8e8c8"/>
<path d="M440 318.4Q442.7 314.6 447 313" stroke="#b8e8c8"/>
<path d="M440 318.4Q443.3 322.9 448.5 324.8" stroke="#b8e8c8"/>
<path d="M440 318.4Q436 323.2 430 325" stroke="#b8e8c8"/>
<path d="M419 323.3Q416.5 318.3 411.7 315.4" stroke="#b8e8c8"/>
<path d="M419 323.3Q420.7 319 424.5 316.4" stroke="#b8e8c8"/>
<path d="M419 323.3Q424.2 325.8 430 325" stroke="#b8e8c8"/>
<path d="M405.9 328.2Q408.7 328.7 410.8 330.7" stroke="#d8e8c0"/>
<path d="M440 331Q445.2 329.2 448.5 324.8" stroke="#b8e8c8"/>
<path d="M440 331Q439.1 334.9 436.2 337.6" stroke="#b8e8c8"/>
<path d="M440 331Q435.9 326.5 430 325" stroke="#b8e8c8"/>
<path d="M414 350.7Q418.8 353 421.5 357.5" stroke="#d8e8c0"/>
<path d="M438.2 359.5Q440.2 363.3 444 365.3" stroke="#b8e8c8"/>
<path d="M432.9 305.3Q435.5 305.2 437.8 306.6" stroke="#b8e8c8"/>
<path d="M432.9 305.3Q429.4 307.9 428 312" stroke="#b8e8c8"/>
<path d="M437.8 306.6Q433.7 310.8 428 312" stroke="#b8e8c8"/>
<path d="M456.8 304Q454.9 306.1 454.4 309" stroke="#b8e8c8"/>
<path d="M421.5 308.6Q424.2 312.1 424.5 316.4" stroke="#b8e8c8"/>
<path d="M421.5 308.6Q424.2 311.3 428 312" stroke="#b8e8c8"/>
<path d="M447 313Q450.1 309.9 454.4 309" stroke="#b8e8c8"/>
<path d="M447 313Q449.6 318.7 455 322" stroke="#b8e8c8"/>
<path d="M424.5 316.4Q425.6 313.7 428 312" stroke="#b8e8c8"/>
<path d="M424.5 316.4Q426 321.5 430 325" stroke="#b8e8c8"/>
<path d="M448.5 324.8Q451.3 322.4 455 322" stroke="#b8e8c8"/>
<path d="M436.2 337.6Q440 342.8 446 345" stroke="#b8e8c8"/>
<path d="M436.2 337.6Q431.5 340.3 426 340" stroke="#b8e8c8"/>
<path d="M453.2 337Q448.4 339.9 446 345" stroke="#b8e8c8"/>
<path d="M458.7 351.6Q463.3 351 467.5 353" stroke="#b8e8c8"/>
<path d="M456.8 368.3Q460 370.1 463.6 369.8" stroke="#b8e8c8"/>
<path d="M463.6 369.8Q466.9 370.1 469.5 372.2" stroke="#d8e8c0"/>
<path d="M375.2 351.4Q378.4 353.9 382.5 354.2" stroke="#a8e8f0"/>
<path d="M364 363.4Q360.3 366 355.8 366.2" stroke="#a8e8f0"/>
<path d="M364 363.4Q360.7 367.1 360 372" stroke="#a8e8f0"/>
<path d="M355.8 366.2Q354.2 371.5 350 375" stroke="#a8e8f0"/>
<path d="M355.8 366.2Q357 369.7 360 372" stroke="#a8e8f0"/>
<path d="M357.6 380Q360.8 381.6 362.6 384.6" stroke="#a8e8f0"/>
<path d="M357.6 380Q354.6 376.4 350 375" stroke="#a8e8f0"/>
<path d="M357.6 380Q357.6 375.6 360 372" stroke="#a8e8f0"/>
<path d="M343.8 393.8Q345.1 399.7 349.4 404" stroke="#d8e8c0"/>
<path d="M343.8 393.8Q343.1 391.5 343.8 389.2" stroke="#d8e8c0"/>
<path d="M343.8 393.8Q348.2 392.4 351.2 388.8" stroke="#a8e8f0"/>
<path d="M343.8 393.8Q349.2 393.4 354 396" stroke="#a8e8f0"/>
<path d="M349.4 404Q352.9 400.7 354 396" stroke="#a8e8f0"/>
<path d="M343.8 389.2Q347.4 387.9 351.2 388.8" stroke="#a8e8f0"/>
<path d="M343.8 389.2Q347 386.2 348 382" stroke="#a8e8f0"/>
<path d="M362.6 384.6Q357.5 388.4 351.2 388.8" stroke="#a8e8f0"/>
<path d="M362.6 384.6Q365.5 388.4 370 390" stroke="#e8ec98"/>
<path d="M351.2 388.8Q353.7 392 354 396" stroke="#a8e8f0"/>
<path d="M351.2 388.8Q350.6 384.9 348 382" stroke="#a8e8f0"/>
<path d="M350 375Q354.6 372 360 372" stroke="#a8e8f0"/>
<path d="M350 375Q347.9 378.2 348 382" stroke="#a8e8f0"/>
<path d="M369 397Q372.6 393.4 377.6 392.4" stroke="#e8ec98"/>
<path d="M369 397Q369.3 401.4 372 405" stroke="#e8ec98"/>
<path d="M369 397Q368.4 393.4 370 390" stroke="#e8ec98"/>
<path d="M378 402Q381.5 399.5 383 395.5" stroke="#e8ec98"/>
<path d="M378 402Q376.4 397.3 377.6 392.4" stroke="#e8ec98"/>
<path d="M378 402Q374.6 402.6 372 405" stroke="#e8ec98"/>
<path d="M378 402Q380.2 404.1 381 407" stroke="#e8ec98"/>
<path d="M383 395.5Q385.9 396.6 389 396" stroke="#e8ec98"/>
<path d="M383 395.5Q379.8 394.8 377.6 392.4" stroke="#e8ec98"/>
<path d="M389 396Q391.3 398.3 394.5 399" stroke="#e8ec98"/>
<path d="M389 396Q390.4 398.9 390 402" stroke="#e8ec98"/>
<path d="M394.5 399Q397.1 400.3 400 400" stroke="#e8ec98"/>
<path d="M394.5 399Q392.7 401.2 390 402" stroke="#e8ec98"/>
<path d="M394.5 399Q398.5 402.9 404 404" stroke="#e8ec98"/>
<path d="M400 400Q395.3 402.5 390 402" stroke="#e8ec98"/>
<path d="M400 400Q401.4 402.6 404 404" stroke="#e8ec98"/>
<path d="M390 402Q391.9 404.7 392 408" stroke="#e8ec98"/>
<path d="M386.4 415.5Q391.1 416.4 395.5 414.5" stroke="#e8ec98"/>
<path d="M386.4 415.5Q384.6 413 384.5 410" stroke="#e8ec98"/>
<path d="M386.4 415.5Q382.3 415.6 379 418" stroke="#e8ec98"/>
<path d="M395.5 414.5Q397.7 411.9 401 411" stroke="#e8ec98"/>
<path d="M395.5 414.5Q394.7 410.7 392 408" stroke="#e8ec98"/>
<path d="M401 411Q396.1 410.9 392 408" stroke="#e8ec98"/>
<path d="M401 411Q403.6 407.9 404 404" stroke="#e8ec98"/>
<path d="M376.4 412.7Q380 410.1 384.5 410" stroke="#e8ec98"/>
<path d="M376.4 412.7Q375.4 408.2 372 405" stroke="#e8ec98"/>
<path d="M376.4 412.7Q377.8 409.2 381 407" stroke="#e8ec98"/>
<path d="M376.4 412.7Q376.9 415.7 379 418" stroke="#e8ec98"/>
<path d="M384.5 410Q382.3 409 381 407" stroke="#e8ec98"/>
<path d="M384.5 410Q388.6 410.1 392 408" stroke="#e8ec98"/>
<path d="M384.5 410Q382.9 414.8 379 418" stroke="#e8ec98"/>
<path d="M377.6 392.4Q374.2 390.1 370 390" stroke="#e8ec98"/>
<path d="M293.4 344Q295.4 343.5 297.4 344.3" stroke="#d8e890"/>
<path d="M293.4 344Q292.3 342 290.3 341" stroke="#d8e890"/>
<path d="M293.4 344Q294.9 345.7 295.1 348" stroke="#d8e890"/>
<path d="M293.4 344Q295.1 342 295.5 339.4" stroke="#d8e890"/>
<path d="M293.4 344Q292.8 347.1 290.7 349.3" stroke="#d8e890"/>
<path d="M289.1 364.6Q287 363.7 284.7 364.2" stroke="#d8e890"/>
<path d="M289.1 364.6Q291.4 365.1 293 366.8" stroke="#d8e890"/>
<path d="M289.1 364.6Q287.5 365.5 286.6 367.2" stroke="#d8e890"/>
<path d="M289.1 364.6Q290.9 362.9 293.3 362.5" stroke="#d8e890"/>
<path d="M305.9 340.6Q303.4 339.8 300.9 340.5" stroke="#d8e890"/>
<path d="M305.9 340.6Q304.5 337.9 304.8 334.8" stroke="#d8e890"/>
<path d="M284.7 364.2Q285.2 366 286.6 367.2" stroke="#d8e890"/>
<path d="M284.7 364.2Q279.6 367.1 273.7 366.8" stroke="#d8e890"/>
<path d="M284.7 364.2Q282.2 362.4 279.2 362.2" stroke="#d8e890"/>
<path d="M279.7 353.6Q282.3 352.9 284.9 353.8" stroke="#d8e890"/>
<path d="M279.7 353.6Q281.4 351.8 281.8 349.3" stroke="#d8e890"/>
<path d="M279.7 353.6Q282 355.6 282.8 358.6" stroke="#d8e890"/>
<path d="M297.4 344.3Q299.7 342.9 300.9 340.5" stroke="#d8e890"/>
<path d="M297.4 344.3Q296.8 346.5 295.1 348" stroke="#d8e890"/>
<path d="M297.4 344.3Q297.2 341.6 295.5 339.4" stroke="#d8e890"/>
<path d="M284.9 353.8Q288.5 354.6 291.1 357.3" stroke="#d8e890"/>
<path d="M284.9 353.8Q285.7 356.1 287.7 357.5" stroke="#d8e890"/>
<path d="M284.9 353.8Q282.7 352 281.8 349.3" stroke="#d8e890"/>
<path d="M284.9 353.8Q283.1 355.9 282.8 358.6" stroke="#d8e890"/>
<path d="M290.3 341Q289.8 343.6 287.9 345.5" stroke="#d8e890"/>
<path d="M290.3 341Q288.4 339.6 286 339.4" stroke="#d8e890"/>
<path d="M293 366.8Q289.9 368 286.6 367.2" stroke="#d8e890"/>
<path d="M293 366.8Q293.8 364.7 293.3 362.5" stroke="#d8e890"/>
<path d="M300.9 340.5Q298 340.8 295.5 339.4" stroke="#d8e890"/>
<path d="M300.9 340.5Q299.6 336.7 296.5 334.2" stroke="#d8e890"/>
<path d="M300.9 340.5Q302 337.1 304.8 334.8" stroke="#d8e890"/>
<path d="M302.3 353.3Q299.5 349.6 295.1 348" stroke="#d8e890"/>
<path d="M302.3 353.3Q303.1 350.8 305.2 349.1" stroke="#d8e890"/>
<path d="M295.1 348Q292.7 348 290.7 349.3" stroke="#d8e890"/>
<path d="M291.1 357.3Q289.4 357.9 287.7 357.5" stroke="#d8e890"/>
<path d="M291.1 357.3Q291.4 360.2 293.3 362.5" stroke="#d8e890"/>
<path d="M287.7 357.5Q285.4 358.8 282.8 358.6" stroke="#d8e890"/>
<path d="M275 362Q273.6 364.2 273.7 366.8" stroke="#d8e890"/>
<path d="M275 362Q277.1 361.5 279.2 362.2" stroke="#d8e890"/>
<path d="M275 362Q279.4 361.5 282.8 358.6" stroke="#d8e890"/>
<path d="M283.5 346.2Q283.1 348 281.8 349.3" stroke="#d8e890"/>
<path d="M283.5 346.2Q285.8 346.5 287.9 345.5" stroke="#d8e890"/>
<path d="M283.5 346.2Q282.5 344.8 282.5 343.1" stroke="#d8e890"/>
<path d="M295.5 339.4Q296.8 336.9 296.5 334.2" stroke="#d8e890"/>
<path d="M287.9 345.5Q284.8 345.1 282.5 343.1" stroke="#d8e890"/>
<path d="M287.9 345.5Q288.7 347.8 290.7 349.3" stroke="#d8e890"/>
<path d="M287.9 345.5Q286 342.7 286 339.4" stroke="#d8e890"/>
<path d="M273.7 366.8Q277.1 365.3 279.2 362.2" stroke="#d8e890"/>
<path d="M296.5 334.2Q300.7 333.3 304.8 334.8" stroke="#d8e890"/>
<path d="M282.5 343.1Q284.8 341.8 286 339.4" stroke="#d8e890"/>
<path d="M279.2 362.2Q280.5 359.9 282.8 358.6" stroke="#d8e890"/>
<path d="M253.2 346.4Q250.1 346.6 247.7 348.5" stroke="#48d040"/>
<path d="M253.2 346.4Q251.1 346.6 249.3 345.7" stroke="#48d040"/>
<path d="M253.2 346.4Q253.1 343.8 251.5 341.7" stroke="#48d040"/>
<path d="M253.2 346.4Q256.3 346.3 258.9 347.9" stroke="#48d040"/>
<path d="M228.5 344.1Q230.2 345.8 232.6 346.2" stroke="#48d040"/>
<path d="M228.5 344.1Q230 342 232.3 341.1" stroke="#48d040"/>
<path d="M228.5 344.1Q227.8 341.1 225.6 338.9" stroke="#48d040"/>
<path d="M257.5 341.2Q256.2 338.9 256.4 336.3" stroke="#48d040"/>
<path d="M257.5 341.2Q259.8 339.5 260.8 336.9" stroke="#48d040"/>
<path d="M257.5 341.2Q260.9 339.9 264.5 340.7" stroke="#48d040"/>
<path d="M257.5 341.2Q254.4 340.6 251.5 341.7" stroke="#48d040"/>
<path d="M257.5 341.2Q259.2 344.3 258.9 347.9" stroke="#48d040"/>
<path d="M232.6 346.2Q234.4 345 235.3 342.9" stroke="#48d040"/>
<path d="M232.6 346.2Q231.7 343.7 232.3 341.1" stroke="#48d040"/>
<path d="M239.3 346.4Q240.3 344.5 240 342.3" stroke="#48d040"/>
<path d="M239.3 346.4Q241.7 346.3 243.7 347.5" stroke="#48d040"/>
<path d="M239.3 346.4Q237.8 344 235.3 342.9" stroke="#48d040"/>
<path d="M256.4 336.3Q258.7 335.9 260.8 336.9" stroke="#48d040"/>
<path d="M256.4 336.3Q253.1 338.3 251.5 341.7" stroke="#48d040"/>
<path d="M230.3 336Q233.4 336.3 235.8 338.2" stroke="#48d040"/>
<path d="M230.3 336Q230.5 338.9 232.3 341.1" stroke="#48d040"/>
<path d="M230.3 336Q228.4 338.2 225.6 338.9" stroke="#48d040"/>
<path d="M240 342.3Q238.5 339.6 235.8 338.2" stroke="#48d040"/>
<path d="M240 342.3Q237.7 343.3 235.3 342.9" stroke="#48d040"/>
<path d="M240 342.3Q242.9 340 244 336.5" stroke="#48d040"/>
<path d="M247.7 348.5Q245.5 348.6 243.7 347.5" stroke="#48d040"/>
<path d="M247.7 348.5Q248.9 347.3 249.3 345.7" stroke="#48d040"/>
<path d="M243.7 347.5Q246.2 345.8 249.3 345.7" stroke="#48d040"/>
<path d="M260.8 336.9Q262.1 339.4 264.5 340.7" stroke="#48d040"/>
<path d="M235.8 338.2Q236.3 340.6 235.3 342.9" stroke="#48d040"/>
<path d="M235.8 338.2Q233.6 339.1 232.3 341.1" stroke="#48d040"/>
<path d="M235.3 342.9Q233.5 342.4 232.3 341.1" stroke="#48d040"/>
<path d="M246.6 342.1Q246.1 338.9 244 336.5" stroke="#48d040"/>
<path d="M246.6 342.1Q248.5 343.5 249.3 345.7" stroke="#48d040"/>
<path d="M246.6 342.1Q249.1 342.6 251.5 341.7" stroke="#48d040"/>
<path d="M246.6 342.1Q246.4 340.5 247.2 339" stroke="#48d040"/>
<path d="M244 336.5Q245.2 338.2 247.2 339" stroke="#48d040"/>
<path d="M232.3 341.1Q228.6 341 225.6 338.9" stroke="#48d040"/>
<path d="M249.3 345.7Q251 344 251.5 341.7" stroke="#48d040"/>
<path d="M264.5 340.7Q262.8 345.1 258.9 347.9" stroke="#48d040"/>
<path d="M251.5 341.7Q249.8 339.7 247.2 339" stroke="#48d040"/>
</g>
<polygon points="32.5,343 54,349.5 61.5,358.5 55,373 35.5,376 18,365" fill="none" stroke="#4f95a8" stroke-width="0.9" stroke-linejoin="round"/>
<polygon points="161,339.5 174,349 176.5,367.5 165.3,372.2 120,361 118,357" fill="none" stroke="#3aa8a0" stroke-width="0.9" stroke-linejoin="round"/>
<polygon points="145.9,393 150.3,391.7 156.1,392.3 164.1,401.4 165.2,408.3 156.1,410.8 148.1,409 145.9,399.5" fill="none" stroke="#6a6ad8" stroke-width="0.9" stroke-linejoin="round"/>
<polygon points="254.8,280.2 263,284.5 280.2,302 262.2,307.7 255.6,308.6 236,309.7 229,307.7 228.6,299.5 236,289 248.3,282.4" fill="none" stroke="#5a78c8" stroke-width="0.9" stroke-linejoin="round"/>
<polygon points="313.8,262.4 320.2,261 323.6,264.7 326,282.3 319.8,290 311.3,284.6" fill="none" stroke="#b050d8" stroke-width="0.9" stroke-linejoin="round"/>
<polygon points="222.6,334.5 262,332.6 271,342.8 258.9,350.4 227.7,348.5 224.5,344" fill="none" stroke="#66c060" stroke-width="0.9" stroke-linejoin="round"/>
<polygon points="313.4,324.9 283,337 270.5,369.2 292,374.7 306.5,352.6" fill="none" stroke="#a0b050" stroke-width="0.9" stroke-linejoin="round"/>
<polygon points="314,323.5 330,322.5 346,330 345,356 333,361 316,356 309.5,348" fill="none" stroke="#b8b058" stroke-width="0.9" stroke-linejoin="round"/>
<polygon points="352,347.8 382.5,347.8 383.4,354.2 363.2,377.3 357,392 349.4,404 343.8,390 346,370" fill="none" stroke="#40b0c0" stroke-width="0.9" stroke-linejoin="round"/>
<polygon points="367.3,383.6 380,377.3 398,390 403.6,396.4 410,421.8 379,418 371.8,414.5 366.4,387.3" fill="none" stroke="#a8b840" stroke-width="0.9" stroke-linejoin="round"/>
<polygon points="432.7,305.3 457,304 460.5,323.4 464.2,345.2 469,370.6 455.7,368.2 421.8,358.5 419.4,335.5 418,323.4 424.2,309" fill="none" stroke="#50b070" stroke-width="0.9" stroke-linejoin="round"/>
<polygon points="365,248.8 382.2,247.6 391,262 393,287 418,300 376,343 345,292 345.4,280 353.4,261.4" fill="none" stroke="#b06060" stroke-width="0.9" stroke-linejoin="round"/>
<circle cx="32.7" cy="343.2" r="2" fill="#c2cc32"/>
<circle cx="37.3" cy="347.4" r="1.2" fill="#e8d628"/>
<circle cx="53.6" cy="349.5" r="1.2" fill="#e8d628"/>
<circle cx="43.6" cy="352.8" r="1.2" fill="#e8d628"/>
<circle cx="28.2" cy="359.5" r="1.2" fill="#e8d628"/>
<circle cx="40" cy="358.6" r="1.2" fill="#e8d628"/>
<circle cx="56.4" cy="356.5" r="1.2" fill="#e8d628"/>
<circle cx="50" cy="362.3" r="1.8" fill="#f22a2a"/>
<circle cx="62.7" cy="358.6" r="1.6" fill="#e8d628" stroke="#e040e0" stroke-width="0.8"/>
<circle cx="23.6" cy="364" r="1.2" fill="#e8d628"/>
<circle cx="33.6" cy="363.7" r="1.2" fill="#e8d628"/>
<circle cx="47.3" cy="373" r="1.2" fill="#e8d628"/>
<circle cx="35.5" cy="376" r="1.7" fill="#e8d628"/>
<circle cx="52.7" cy="373" r="1.2" fill="#e8d628"/>
<circle cx="18" cy="365" r="1.1" fill="#e8d628"/>
<circle cx="61.5" cy="358.5" r="1.2" fill="#e8d628"/>
<circle cx="170.4" cy="351" r="2.8" fill="#f22a2a" stroke="#e83cd8" stroke-width="1.1"/>
<circle cx="173.3" cy="356" r="1.8" fill="#e8d628" stroke="#e040e0" stroke-width="0.8"/>
<circle cx="161" cy="339.5" r="1.2" fill="#e8d628"/>
<circle cx="160.2" cy="351.8" r="1.5" fill="#dcb060"/>
<circle cx="137.6" cy="353.6" r="1.6" fill="#e8d628" stroke="#e040e0" stroke-width="0.8"/>
<circle cx="123.8" cy="359.8" r="1.2" fill="#e8d628"/>
<circle cx="118.7" cy="357" r="1.2" fill="#e8d628"/>
<circle cx="135.5" cy="364.2" r="1.2" fill="#e8d628"/>
<circle cx="147" cy="363.5" r="1.8" fill="#f22a2a"/>
<circle cx="155" cy="366.4" r="1.2" fill="#e8d628"/>
<circle cx="165.3" cy="372.2" r="1.2" fill="#e8d628"/>
<circle cx="170.4" cy="369" r="1.2" fill="#e8d628"/>
<circle cx="176.2" cy="368" r="1.2" fill="#e8d628"/>
<circle cx="130" cy="356" r="1.1" fill="#e8d628"/>
<circle cx="150" cy="358" r="1.1" fill="#e8d628"/>
<circle cx="166" cy="362" r="1.1" fill="#e8d628"/>
<circle cx="145.9" cy="393" r="1.1" fill="#e8d628"/>
<circle cx="156.1" cy="392.3" r="1.1" fill="#e8d628"/>
<circle cx="155" cy="396" r="1.1" fill="#e8d628"/>
<circle cx="148.8" cy="397" r="1.1" fill="#e8d628"/>
<circle cx="155" cy="406" r="1.1" fill="#e8d628"/>
<circle cx="159.4" cy="408.3" r="1.1" fill="#e8d628"/>
<circle cx="165.2" cy="408.3" r="1.1" fill="#e8d628"/>
<circle cx="148.1" cy="409" r="1.1" fill="#e8d628"/>
<circle cx="156.1" cy="410.8" r="1.1" fill="#e8d628"/>
<circle cx="162.6" cy="402.5" r="1.1" fill="#e8d628"/>
<circle cx="254.8" cy="280.2" r="1.2" fill="#c2cc32"/>
<circle cx="248.3" cy="282.4" r="1.2" fill="#c2cc32"/>
<circle cx="236" cy="289" r="1.2" fill="#c2cc32"/>
<circle cx="256.5" cy="287.3" r="1.2" fill="#c2cc32"/>
<circle cx="263" cy="289.7" r="1.6" fill="#c2cc32"/>
<circle cx="263.8" cy="298.7" r="1.6" fill="#c2cc32"/>
<circle cx="258" cy="300.9" r="1.2" fill="#c2cc32"/>
<circle cx="237.6" cy="298" r="1.2" fill="#c2cc32"/>
<circle cx="232.7" cy="301.5" r="1.2" fill="#c2cc32"/>
<circle cx="238.5" cy="303.6" r="1.2" fill="#c2cc32"/>
<circle cx="228.6" cy="303.6" r="1.2" fill="#c2cc32"/>
<circle cx="236" cy="309.4" r="1.8" fill="#e8d628"/>
<circle cx="255.6" cy="308.5" r="1.4" fill="#e8d628"/>
<circle cx="261.4" cy="307.7" r="1.2" fill="#c2cc32"/>
<circle cx="280.2" cy="302" r="1.6" fill="#c2cc32"/>
<circle cx="313.8" cy="262.4" r="1.5" fill="#c2cc32"/>
<circle cx="320.2" cy="261" r="1.5" fill="#c2cc32"/>
<circle cx="323.6" cy="264.7" r="1.5" fill="#c2cc32"/>
<circle cx="314.7" cy="267.3" r="1.5" fill="#c2cc32"/>
<circle cx="320.7" cy="270.7" r="1.5" fill="#c2cc32"/>
<circle cx="315.2" cy="274.4" r="2" fill="#94c94a"/>
<circle cx="317" cy="282.3" r="1.5" fill="#c2cc32"/>
<circle cx="326" cy="282.3" r="2" fill="#94c94a"/>
<circle cx="311.3" cy="284.6" r="1.5" fill="#c2cc32"/>
<circle cx="319.8" cy="290" r="1.5" fill="#c2cc32"/>
<circle cx="267" cy="334" r="1.8" fill="#e8d628" stroke="#e040e0" stroke-width="0.8"/>
<circle cx="322.6" cy="328.2" r="2.5" fill="#f22a2a"/>
<circle cx="317.5" cy="342" r="2" fill="#f22a2a" stroke="#e83cd8" stroke-width="1.1"/>
<circle cx="311" cy="348.5" r="3" fill="#f22a2a"/>
<circle cx="336.5" cy="358.7" r="2.5" fill="#f22a2a"/>
<circle cx="341.5" cy="347.8" r="2.5" fill="#f22a2a"/>
<circle cx="362.6" cy="350" r="3.2" fill="#f22a2a"/>
<circle cx="340" cy="334" r="2.4" fill="#9ccc50" stroke="#e040e0" stroke-width="0.9"/>
<circle cx="327.7" cy="353.6" r="1.8" fill="#e8d628" stroke="#e040e0" stroke-width="0.8"/>
<circle cx="314" cy="345" r="1.8" fill="#e8d628" stroke="#e040e0" stroke-width="0.8"/>
<circle cx="319" cy="331.8" r="2.2" fill="#c2cc32"/>
<circle cx="326.3" cy="332.5" r="2.2" fill="#c2cc32"/>
<circle cx="298" cy="350" r="1.6" fill="#c2cc32"/>
<circle cx="370.6" cy="328.2" r="2" fill="#94c94a"/>
<circle cx="373.5" cy="350.7" r="2" fill="#94c94a"/>
<circle cx="316" cy="336" r="1.6" fill="#e8d628"/>
<circle cx="321" cy="337" r="1.6" fill="#e8d628"/>
<circle cx="326" cy="338" r="1.6" fill="#e8d628"/>
<circle cx="331" cy="336" r="1.6" fill="#e8d628"/>
<circle cx="335" cy="340" r="1.6" fill="#e8d628"/>
<circle cx="318" cy="347" r="1.6" fill="#e8d628"/>
<circle cx="323" cy="346" r="1.6" fill="#e8d628"/>
<circle cx="328" cy="344" r="1.6" fill="#e8d628"/>
<circle cx="333" cy="345" r="1.6" fill="#e8d628"/>
<circle cx="338" cy="343" r="1.6" fill="#e8d628"/>
<circle cx="320" cy="351" r="1.6" fill="#e8d628"/>
<circle cx="325" cy="349" r="1.6" fill="#e8d628"/>
<circle cx="331" cy="350" r="1.6" fill="#e8d628"/>
<circle cx="336" cy="352" r="1.6" fill="#e8d628"/>
<circle cx="322" cy="355" r="1.6" fill="#e8d628"/>
<circle cx="329" cy="357" r="1.6" fill="#e8d628"/>
<circle cx="315" cy="352" r="1.6" fill="#e8d628"/>
<circle cx="313" cy="339" r="1.6" fill="#e8d628"/>
<circle cx="330" cy="327" r="1.6" fill="#e8d628"/>
<circle cx="336" cy="329" r="1.6" fill="#e8d628"/>
<circle cx="342" cy="338" r="1.6" fill="#e8d628"/>
<circle cx="311" cy="330" r="1.6" fill="#e8d628"/>
<circle cx="318" cy="325" r="1.6" fill="#e8d628"/>
<circle cx="374.4" cy="254" r="3" fill="#f22a2a"/>
<circle cx="368.5" cy="263.3" r="2.5" fill="#f22a2a"/>
<circle cx="357.6" cy="267.6" r="3" fill="#f22a2a"/>
<circle cx="346.7" cy="283" r="3" fill="#f22a2a"/>
<circle cx="364" cy="282.2" r="3" fill="#f22a2a"/>
<circle cx="367" cy="286.5" r="2.5" fill="#f22a2a"/>
<circle cx="347.2" cy="292.4" r="3.5" fill="#f22a2a"/>
<circle cx="376.6" cy="300.3" r="2" fill="#f22a2a"/>
<circle cx="386.5" cy="304.4" r="3" fill="#f22a2a" stroke="#e83cd8" stroke-width="1.1"/>
<circle cx="370" cy="310" r="2.5" fill="#f22a2a"/>
<circle cx="392.2" cy="309.3" r="2.5" fill="#f22a2a"/>
<circle cx="400.4" cy="306" r="2.5" fill="#f22a2a"/>
<circle cx="402" cy="313.4" r="3" fill="#f22a2a"/>
<circle cx="372.5" cy="319" r="2.5" fill="#f22a2a"/>
<circle cx="397" cy="320" r="2.5" fill="#f22a2a"/>
<circle cx="386.5" cy="326.5" r="2.5" fill="#f22a2a"/>
<circle cx="379" cy="332.2" r="2.5" fill="#f22a2a"/>
<circle cx="391.4" cy="335.5" r="2.5" fill="#f22a2a"/>
<circle cx="395.5" cy="335.5" r="2.5" fill="#f22a2a"/>
<circle cx="407" cy="328" r="4" fill="#f22a2a" stroke="#e83cd8" stroke-width="1.1"/>
<circle cx="410" cy="330.5" r="3" fill="#f22a2a"/>
<circle cx="418.4" cy="323.2" r="3" fill="#f22a2a"/>
<circle cx="363" cy="350" r="3" fill="#f22a2a"/>
<circle cx="336" cy="358" r="2.5" fill="#f22a2a"/>
<circle cx="384" cy="328" r="2.5" fill="#f22a2a"/>
<circle cx="365" cy="249.5" r="2.5" fill="#94c94a"/>
<circle cx="375" cy="248.7" r="2.5" fill="#94c94a"/>
<circle cx="366.4" cy="255.3" r="2.5" fill="#94c94a"/>
<circle cx="385.3" cy="256" r="2" fill="#94c94a"/>
<circle cx="356" cy="261.8" r="2" fill="#94c94a"/>
<circle cx="386.7" cy="260.4" r="2" fill="#94c94a"/>
<circle cx="351.8" cy="277" r="2" fill="#94c94a"/>
<circle cx="392.5" cy="281.5" r="2.5" fill="#94c94a"/>
<circle cx="407.8" cy="282.2" r="2.5" fill="#94c94a"/>
<circle cx="392.5" cy="291" r="2.5" fill="#94c94a"/>
<circle cx="360.3" cy="296.2" r="2" fill="#94c94a"/>
<circle cx="366.8" cy="297" r="2" fill="#94c94a"/>
<circle cx="347.2" cy="299.5" r="2" fill="#94c94a"/>
<circle cx="387.3" cy="315.8" r="2.5" fill="#9ccc50" stroke="#e040e0" stroke-width="0.9"/>
<circle cx="410.2" cy="314.2" r="2" fill="#94c94a"/>
<circle cx="339.8" cy="334.6" r="2.2" fill="#9ccc50" stroke="#e040e0" stroke-width="0.9"/>
<circle cx="352" cy="287" r="2" fill="#94c94a"/>
<circle cx="356" cy="290" r="2" fill="#94c94a"/>
<circle cx="383" cy="270" r="2" fill="#94c94a"/>
<circle cx="378" cy="276" r="2" fill="#94c94a"/>
<circle cx="360" cy="278" r="2" fill="#94c94a"/>
<circle cx="372" cy="275" r="2" fill="#94c94a"/>
<circle cx="398" cy="296" r="2" fill="#94c94a"/>
<circle cx="385" cy="296" r="2" fill="#94c94a"/>
<circle cx="352" cy="305" r="2" fill="#94c94a"/>
<circle cx="380" cy="287" r="2" fill="#94c94a"/>
<circle cx="372" cy="267" r="2" fill="#94c94a"/>
<circle cx="362" cy="272" r="2" fill="#94c94a"/>
<circle cx="390" cy="268" r="2" fill="#94c94a"/>
<circle cx="400" cy="288" r="2" fill="#94c94a"/>
<circle cx="377" cy="292" r="2" fill="#94c94a"/>
<circle cx="355" cy="300" r="2" fill="#94c94a"/>
<circle cx="358" cy="312" r="2" fill="#94c94a"/>
<circle cx="365" cy="318" r="2" fill="#94c94a"/>
<circle cx="377" cy="314" r="2" fill="#94c94a"/>
<circle cx="392" cy="327" r="2" fill="#94c94a"/>
<circle cx="400" cy="329" r="2" fill="#94c94a"/>
<circle cx="374" cy="338" r="2" fill="#94c94a"/>
<circle cx="366" cy="340" r="2" fill="#94c94a"/>
<circle cx="412" cy="292" r="2" fill="#94c94a"/>
<circle cx="416.6" cy="302" r="3.5" fill="#f22a2a"/>
<circle cx="443.4" cy="302.7" r="3" fill="#f22a2a"/>
<circle cx="440" cy="318.4" r="3" fill="#f22a2a"/>
<circle cx="419" cy="323.3" r="3" fill="#f22a2a"/>
<circle cx="405.9" cy="328.2" r="4" fill="#f22a2a" stroke="#e83cd8" stroke-width="1.1"/>
<circle cx="410.8" cy="330.7" r="3" fill="#f22a2a"/>
<circle cx="440" cy="331" r="3.5" fill="#f22a2a"/>
<circle cx="414" cy="350.7" r="2" fill="#f22a2a"/>
<circle cx="438.2" cy="359.5" r="3" fill="#f22a2a"/>
<circle cx="432.9" cy="305.3" r="2.2" fill="#94c94a"/>
<circle cx="437.8" cy="306.6" r="2.2" fill="#94c94a"/>
<circle cx="456.8" cy="304" r="2.2" fill="#94c94a"/>
<circle cx="421.5" cy="308.6" r="2.2" fill="#94c94a"/>
<circle cx="447" cy="313" r="2.2" fill="#94c94a"/>
<circle cx="454.4" cy="309" r="2.2" fill="#94c94a"/>
<circle cx="411.7" cy="315.4" r="2.2" fill="#94c94a"/>
<circle cx="424.5" cy="316.4" r="2.5" fill="#94c94a"/>
<circle cx="448.5" cy="324.8" r="2.2" fill="#94c94a"/>
<circle cx="436.2" cy="337.6" r="2.2" fill="#94c94a"/>
<circle cx="453.2" cy="337" r="2.2" fill="#94c94a"/>
<circle cx="421.5" cy="357.5" r="2.2" fill="#94c94a"/>
<circle cx="458.7" cy="351.6" r="2.2" fill="#94c94a"/>
<circle cx="467.5" cy="353" r="2.2" fill="#94c94a"/>
<circle cx="444" cy="365.3" r="2.2" fill="#94c94a"/>
<circle cx="456.8" cy="368.3" r="2.2" fill="#94c94a"/>
<circle cx="463.6" cy="369.8" r="2.2" fill="#94c94a"/>
<circle cx="469.5" cy="372.2" r="2.2" fill="#94c94a"/>
<circle cx="428" cy="312" r="2" fill="#94c94a"/>
<circle cx="430" cy="325" r="2" fill="#94c94a"/>
<circle cx="446" cy="345" r="2" fill="#94c94a"/>
<circle cx="455" cy="322" r="2" fill="#94c94a"/>
<circle cx="426" cy="340" r="2" fill="#94c94a"/>
<circle cx="375.2" cy="351.4" r="2.2" fill="#94c94a"/>
<circle cx="382.5" cy="354.2" r="2.2" fill="#94c94a"/>
<circle cx="364" cy="363.4" r="2.4" fill="#94c94a"/>
<circle cx="355.8" cy="366.2" r="2.4" fill="#94c94a"/>
<circle cx="357.6" cy="380" r="2.2" fill="#94c94a"/>
<circle cx="343.8" cy="393.8" r="2.4" fill="#94c94a"/>
<circle cx="349.4" cy="404" r="1.3" fill="#e8d628"/>
<circle cx="343.8" cy="389.2" r="1.3" fill="#e8d628"/>
<circle cx="362.6" cy="384.6" r="3" fill="#f22a2a"/>
<circle cx="351.2" cy="388.8" r="3" fill="#f22a2a"/>
<circle cx="350" cy="375" r="1.2" fill="#c2cc32"/>
<circle cx="354" cy="396" r="1.2" fill="#c2cc32"/>
<circle cx="360" cy="372" r="1.2" fill="#c2cc32"/>
<circle cx="348" cy="382" r="1.2" fill="#c2cc32"/>
<circle cx="369" cy="397" r="1.2" fill="#c2cc32"/>
<circle cx="378" cy="402" r="1.2" fill="#c2cc32"/>
<circle cx="383" cy="395.5" r="1.2" fill="#c2cc32"/>
<circle cx="389" cy="396" r="1.2" fill="#c2cc32"/>
<circle cx="394.5" cy="399" r="1.2" fill="#c2cc32"/>
<circle cx="400" cy="400" r="2.6" fill="#c2cc32"/>
<circle cx="390" cy="402" r="1.2" fill="#c2cc32"/>
<circle cx="386.4" cy="415.5" r="1.2" fill="#c2cc32"/>
<circle cx="395.5" cy="414.5" r="1.2" fill="#c2cc32"/>
<circle cx="401" cy="411" r="1.2" fill="#c2cc32"/>
<circle cx="376.4" cy="412.7" r="1.2" fill="#c2cc32"/>
<circle cx="384.5" cy="410" r="1.2" fill="#c2cc32"/>
<circle cx="377.6" cy="392.4" r="1.8" fill="#e8d628" stroke="#e040e0" stroke-width="0.8"/>
<circle cx="372" cy="405" r="1.2" fill="#c2cc32"/>
<circle cx="381" cy="407" r="1.2" fill="#c2cc32"/>
<circle cx="392" cy="408" r="1.2" fill="#c2cc32"/>
<circle cx="404" cy="404" r="1.2" fill="#c2cc32"/>
<circle cx="410" cy="421.8" r="1.2" fill="#c2cc32"/>
<circle cx="379" cy="418" r="1.2" fill="#c2cc32"/>
<circle cx="370" cy="390" r="1.2" fill="#c2cc32"/>
<circle cx="293.4" cy="344" r="1" fill="#c2cc32"/>
<circle cx="289.1" cy="364.6" r="1" fill="#c2cc32"/>
<circle cx="305.9" cy="340.6" r="1" fill="#c2cc32"/>
<circle cx="284.7" cy="364.2" r="1" fill="#c2cc32"/>
<circle cx="279.7" cy="353.6" r="1" fill="#c2cc32"/>
<circle cx="297.4" cy="344.3" r="1" fill="#c2cc32"/>
<circle cx="284.9" cy="353.8" r="1" fill="#c2cc32"/>
<circle cx="290.3" cy="341" r="1" fill="#c2cc32"/>
<circle cx="293" cy="366.8" r="1" fill="#c2cc32"/>
<circle cx="300.9" cy="340.5" r="1" fill="#c2cc32"/>
<circle cx="302.3" cy="353.3" r="1" fill="#c2cc32"/>
<circle cx="295.1" cy="348" r="1" fill="#c2cc32"/>
<circle cx="291.1" cy="357.3" r="1" fill="#c2cc32"/>
<circle cx="287.7" cy="357.5" r="1" fill="#c2cc32"/>
<circle cx="275" cy="362" r="1" fill="#c2cc32"/>
<circle cx="283.5" cy="346.2" r="1" fill="#c2cc32"/>
<circle cx="286.6" cy="367.2" r="1" fill="#c2cc32"/>
<circle cx="281.8" cy="349.3" r="1" fill="#c2cc32"/>
<circle cx="295.5" cy="339.4" r="1" fill="#c2cc32"/>
<circle cx="287.9" cy="345.5" r="1" fill="#c2cc32"/>
<circle cx="273.7" cy="366.8" r="1" fill="#c2cc32"/>
<circle cx="296.5" cy="334.2" r="1" fill="#c2cc32"/>
<circle cx="282.5" cy="343.1" r="1" fill="#c2cc32"/>
<circle cx="290.7" cy="349.3" r="1" fill="#c2cc32"/>
<circle cx="286" cy="339.4" r="1" fill="#c2cc32"/>
<circle cx="304.8" cy="334.8" r="1" fill="#c2cc32"/>
<circle cx="279.2" cy="362.2" r="1" fill="#c2cc32"/>
<circle cx="293.3" cy="362.5" r="1" fill="#c2cc32"/>
<circle cx="282.8" cy="358.6" r="1" fill="#c2cc32"/>
<circle cx="305.2" cy="349.1" r="1" fill="#c2cc32"/>
<circle cx="253.2" cy="346.4" r="1" fill="#e8d628"/>
<circle cx="228.5" cy="344.1" r="1" fill="#e8d628"/>
<circle cx="257.5" cy="341.2" r="1" fill="#e8d628"/>
<circle cx="232.6" cy="346.2" r="1" fill="#e8d628"/>
<circle cx="239.3" cy="346.4" r="1" fill="#e8d628"/>
<circle cx="256.4" cy="336.3" r="1" fill="#e8d628"/>
<circle cx="230.3" cy="336" r="1" fill="#e8d628"/>
<circle cx="240" cy="342.3" r="1" fill="#e8d628"/>
<circle cx="247.7" cy="348.5" r="1" fill="#e8d628"/>
<circle cx="243.7" cy="347.5" r="1" fill="#e8d628"/>
<circle cx="260.8" cy="336.9" r="1" fill="#e8d628"/>
<circle cx="235.8" cy="338.2" r="1" fill="#e8d628"/>
<circle cx="235.3" cy="342.9" r="1" fill="#e8d628"/>
<circle cx="246.6" cy="342.1" r="1" fill="#e8d628"/>
<circle cx="244" cy="336.5" r="1" fill="#e8d628"/>
<circle cx="232.3" cy="341.1" r="1" fill="#e8d628"/>
<circle cx="249.3" cy="345.7" r="1" fill="#e8d628"/>
<circle cx="264.5" cy="340.7" r="1" fill="#e8d628"/>
<circle cx="251.5" cy="341.7" r="1" fill="#e8d628"/>
<circle cx="258.9" cy="347.9" r="1" fill="#e8d628"/>
<circle cx="247.2" cy="339" r="1" fill="#e8d628"/>
<circle cx="225.6" cy="338.9" r="1" fill="#e8d628"/>
<g font-family="Liberation Sans, Arial, sans-serif" font-size="4.5" font-weight="bold" fill="#111">
<text x="376.3" y="254.5">Allen M. (2018)</text>
<text x="369" y="263.8">Rissman J (2020)</text>
<text x="358.4" y="268.5">Davis SJ (2018)</text>
<text x="347.5" y="283.5">Huang LZ (2018)</text>
<text x="368.2" y="286.8">European Commission (2019)</text>
<text x="347.5" y="292.1">Giesekam J (2016)</text>
<text x="367.3" y="297.2">IPCC (2018)</text>
<text x="379" y="300.5">Li H (2014)</text>
<text x="389" y="303.7">IEA (2017)</text>
<text x="371.7" y="310">Zhang HY (2015)</text>
<text x="405.5" y="313.7">Grubler A (2018)</text>
<text x="419.6" y="302.3">Wernet G (2016)</text>
<text x="443.6" y="302.3">Churkina G (2020)</text>
<text x="442" y="318.5">Ma MD (2020)</text>
<text x="411" y="327.9">Zhou N (2018)</text>
<text x="442" y="330.5">Röck M (2020)</text>
<text x="388" y="323">Shi JC (2016)</text>
<text x="371.7" y="328.8">Ma MD (2017)</text>
<text x="398.7" y="335.3">IEA (2019)</text>
<text x="323.4" y="328.2">Dixit MK (2012)</text>
<text x="341.3" y="334.3">Zhang ZY (2016)</text>
<text x="319.7" y="342">Li DZ (2013)</text>
<text x="320" y="345.7">Chau CK (2015)</text>
<text x="343" y="345.7">Brown NWO (2014)</text>
<text x="316.8" y="348.1">Cabeza LF (2014)</text>
<text x="328.5" y="354.1">Carvalho MD (2011)</text>
<text x="337" y="358.8">Ni ZF (2018)</text>
<text x="272.7" y="342">Omar WMSW (2014)</text>
<text x="262.7" y="337">Lin BQ (2016)</text>
<text x="240" y="340.5">Gustavsson L (2010)</text>
<text x="226.4" y="345.7">Urge-Vorsatz D (2008)</text>
<text x="414.7" y="350.2">Ma MD (2018)</text>
<text x="439" y="360">Ma MD (2019)</text>
<text x="445" y="365.3">Ma MD (2021)</text>
<text x="455.8" y="368.4">Zhang SF (2022)</text>
<text x="364.2" y="385.1">Shan YL (2017)</text>
<text x="353.6" y="388.8">Intergovernmental Panel on Climate Change (IPCC) (2019)</text>
<text x="379" y="392.5">Fan JL (2013)</text>
<text x="173.4" y="350.5">[Anonymous] (2007)</text>
<text x="175.3" y="355.9">Sorrell S (2009)</text>
<text x="166.5" y="360.5">Kavgic M (2010)</text>
<text x="147.5" y="363.2">Swan LG (2009)</text>
<text x="125.3" y="354.8">Rafiq P (2007)</text>
<text x="64.2" y="359.5">Zhang QY (2007)</text>
<text x="51.5" y="362.5">Shakal S (2009)</text>
</g>
<g font-family="Liberation Serif, serif" font-weight="bold" font-size="10" fill="#06067c" stroke="#06067c" stroke-width="0.28">
<text x="334.8" y="275.4">#0 Carbon Reduction</text>
<text x="407.6" y="295.3">#1 Deep Decarbonization</text>
<text x="281" y="324.3">#2 Life Cycle Assessment</text>
<text x="353.4" y="410.1">#3 Residential Building</text>
<text x="236.7" y="367.1">#4 Energy Consumption</text>
<text x="199" y="334.1">#5 Building Sector</text>
<text x="383.4" y="346.8">#6 Commercial Building Operation</text>
<text x="83.9" y="348.5">#7 Hybrid Modeling</text>
<text x="310.2" y="376.9">#8 Construction Industry</text>
<text x="12.7" y="372">#9 Urban Energy Saving</text>
<text x="208.2" y="297">#10 Embodied Carbon</text>
<text x="113.9" y="403.3">#11 Sector Modelling Approaches</text>
</g>
</svg>
</body></html>
